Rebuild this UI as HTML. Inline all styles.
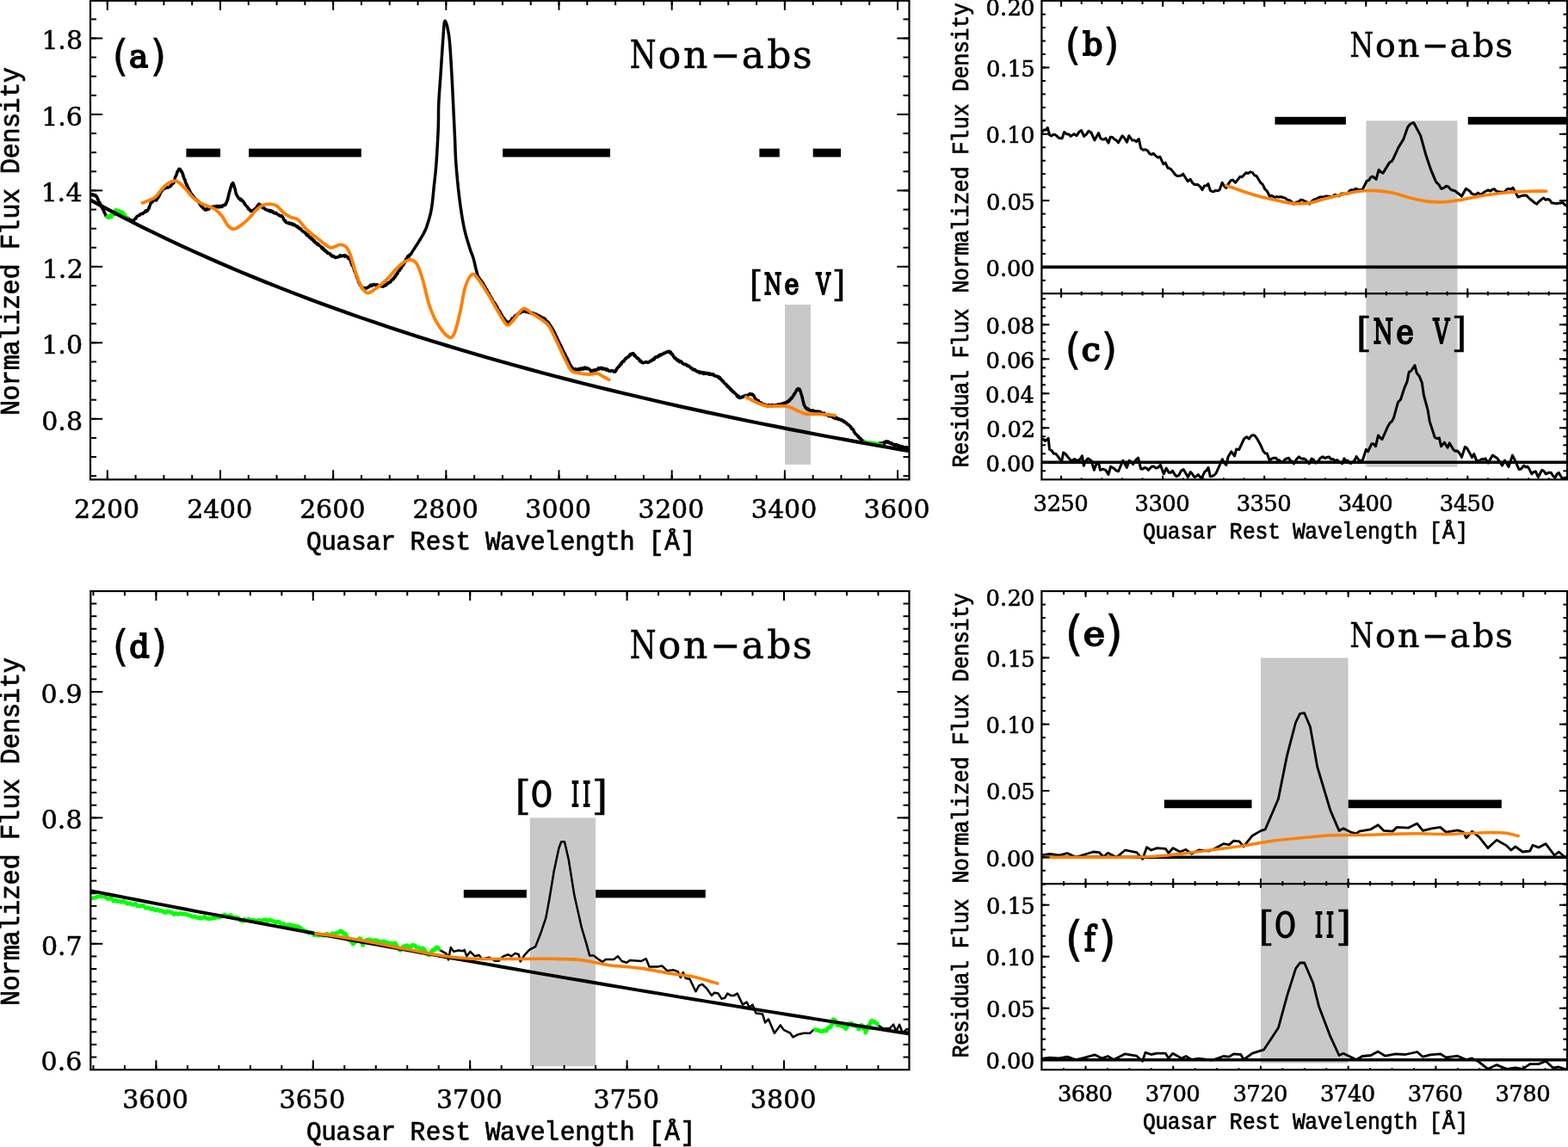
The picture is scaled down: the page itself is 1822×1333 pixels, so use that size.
<!DOCTYPE html><html><head><meta charset="utf-8"><title>Spectra</title><style>html,body{margin:0;padding:0;background:#fff;overflow:hidden}svg{display:block}</style></head><body><svg width="1822" height="1333" viewBox="0 0 1822 1333"><defs><clipPath id="ca"><rect x="105.0" y="0.8" width="951.5" height="556.5"/></clipPath><clipPath id="cd"><rect x="105.3" y="687.0" width="951.2" height="556.2"/></clipPath><clipPath id="cb"><rect x="1210.4" y="0.8" width="610.5999999999999" height="340.4"/></clipPath><clipPath id="cc"><rect x="1210.4" y="341.2" width="610.5999999999999" height="216.09999999999997"/></clipPath><clipPath id="ce"><rect x="1210.4" y="687.0" width="610.5999999999999" height="340.20000000000005"/></clipPath><clipPath id="cf"><rect x="1210.4" y="1027.2" width="610.5999999999999" height="216.0"/></clipPath></defs><rect width="100%" height="100%" fill="#fff"/><g font-family="'DejaVu Serif', 'Liberation Serif', serif" fill="#000"><rect x="912.1" y="354.1" width="29.8" height="185.8" fill="#c8c8c8"/><rect x="1587.4" y="140.3" width="106.1" height="402.3" fill="#c8c8c8"/><rect x="615.7" y="950.4" width="76.3" height="288.8" fill="#c8c8c8"/><rect x="1465" y="764.6" width="101.5" height="471" fill="#c8c8c8"/><rect x="216.4" y="172.7" width="39.6" height="9.8" fill="#000"/><rect x="289.1" y="172.7" width="130.7" height="9.8" fill="#000"/><rect x="584.1" y="172.7" width="124.9" height="9.8" fill="#000"/><rect x="882.4" y="172.7" width="23.4" height="9.8" fill="#000"/><rect x="944.7" y="172.7" width="32.3" height="9.8" fill="#000"/><rect x="1481.5" y="135.8" width="82.4" height="8.9" fill="#000"/><rect x="1705.8" y="135.8" width="116.2" height="8.9" fill="#000"/><rect x="538.8" y="1034.1" width="73.1" height="9.3" fill="#000"/><rect x="692.2" y="1034.1" width="127.6" height="9.3" fill="#000"/><rect x="1352.8" y="929.5" width="101.7" height="9.7" fill="#000"/><rect x="1566.7" y="929.5" width="178.1" height="9.7" fill="#000"/><line x1="1210.4" y1="310.4" x2="1821" y2="310.4" stroke="#000" stroke-width="3.6"/><line x1="1210.4" y1="537.3" x2="1821" y2="537.3" stroke="#000" stroke-width="3.4"/><line x1="1210.4" y1="996.3" x2="1821" y2="996.3" stroke="#000" stroke-width="3.4"/><line x1="1210.4" y1="1231.7" x2="1821" y2="1231.7" stroke="#000" stroke-width="3.4"/><g clip-path="url(#ca)"><polyline points="105.3,226 105.73,225.81 106.31,225.64 107.01,226.7 107.78,225.84 108.59,226.9 109.4,226.85 110.18,226.61 110.9,227.79 111.5,227.37 111.96,228.53 112.37,228.38 112.75,228.98 113.09,230.18 113.42,231.54 113.73,230.93 114.04,231.78 114.34,233.19 114.66,234.44 115,234.44 115.32,234.72 115.64,236.39 115.97,235.35 116.29,237.46 116.61,237.09 116.94,237.48 117.26,238.09 117.57,239.08 117.89,240.63 118.2,240.12 118.5,241.45 118.87,242.29 119.23,242.55 119.6,243.6 119.95,243.45 120.31,244.15 120.65,245.1 120.98,246.62 121.3,246.79 121.6,247.17 122.01,248.48 122.36,249.01 122.69,249.44 123.03,250.96 123.39,251.33 123.8,250.94 124.49,252 125.23,252.18 126.05,252.86 127,252.41 127.53,251.41 128.1,252.34 128.7,250.41 129.32,250.52 129.97,250.67 130.64,249.14 131.31,249.33 132,248.17 132.62,249 133.27,248.85 133.93,248.17 134.6,248.39 135.28,247.09 135.96,247.54 136.65,247.19 137.33,247.1 138,246.92 138.6,247.77 139.2,248.22 139.8,247.71 140.4,248.46 141,247.83 141.6,249.47 142.2,249.88 142.8,250.99 143.4,251.15 144,250.61 144.61,251.2 145.22,252.14 145.85,251.41 146.47,252.64 147.09,252.55 147.71,252.88 148.31,253.18 148.9,254.83 149.46,254.03 150,254.55 150.84,255.29 151.61,256.63 152.35,255.62 153.06,256.58 153.77,256.89 154.5,257.39 155.02,257.03 155.5,256.71 155.96,255.16 156.43,254.81 156.93,254.06 157.49,254.33 158.14,253.78 158.9,251.67 159.4,251.34 159.96,251.05 160.57,250.64 161.21,250.67 161.88,250.43 162.57,249.41 163.27,248.5 163.98,248.81 164.67,248.29 165.35,248.23 166,248.51 166.61,247.65 167.18,246.97 167.7,246.81 168.5,246.41 169.2,244.88 169.83,246.06 170.41,245.52 170.94,245.34 171.46,244.8 171.97,243.56 172.5,242.92 172.82,241.89 173.12,242.29 173.41,240.64 173.68,239.98 173.94,239.54 174.21,238.74 174.47,238.33 174.74,237.09 175.03,236.29 175.33,235.89 175.66,235.17 176.01,235.07 176.4,233.95 176.9,234.97 177.44,234.11 178.02,232.94 178.62,232.86 179.25,232.79 179.88,232.58 180.52,231.88 181.16,232.88 181.79,232.76 182.41,231.33 183,230.77 183.36,229.59 183.71,229.11 184.04,228.97 184.37,228.23 184.68,228.6 185,226.73 185.31,225.79 185.62,226.75 185.94,225.28 186.27,223.89 186.61,223.9 186.97,222.29 187.35,222.53 187.74,222.71 188.17,221.9 188.62,221.05 189.1,219.77 189.63,219.51 190.2,218.75 190.82,219.48 191.48,218.72 192.16,218.86 192.87,217.76 193.59,217.31 194.32,218.11 195.04,218.17 195.76,217.68 196.47,217.34 197.15,217.1 197.81,216.67 198.43,215.43 199,215.62 199.53,214.95 200,213.95 200.5,213.4 200.94,213.26 201.32,212.59 201.66,212.71 201.96,212.51 202.23,210.89 202.47,211.06 202.69,210.43 202.9,209.64 203.1,207.86 203.31,206.9 203.52,206.22 203.75,205.49 204,204.87 204.3,204.87 204.6,204.59 204.89,203.68 205.18,202.22 205.46,201.73 205.74,201.22 206.02,199.2 206.3,199.54 206.57,199.37 206.85,198.6 207.12,198.09 207.4,197.26 208.05,196.23 208.69,197.21 209.33,196.64 209.99,198.12 210.7,199.45 210.93,198.83 211.17,199.33 211.42,200.86 211.67,201.07 211.92,200.72 212.18,201.34 212.44,202.11 212.7,204.22 212.96,204.81 213.23,204.39 213.49,206.39 213.76,207.43 214.02,207.6 214.28,207.78 214.54,208.83 214.8,208.74 215.09,209.24 215.37,211.67 215.66,211.79 215.93,212.26 216.21,213.67 216.49,213.45 216.77,214.91 217.05,215.49 217.34,215.05 217.63,215.78 217.94,216.52 218.25,217.09 218.57,218.38 218.9,218.47 219.22,219.39 219.55,219.53 219.9,221.59 220.25,221.25 220.6,222.11 220.97,223.01 221.33,224.25 221.7,224.04 222.08,225.58 222.45,225.47 222.83,226.14 223.2,226.72 223.57,226.38 223.94,227.68 224.3,227.73 224.84,228.1 225.38,230.15 225.92,229.58 226.46,230.63 227.01,231.57 227.55,231.73 228.09,231.79 228.63,232.63 229.16,233.22 229.7,234.21 230.15,233.52 230.6,234.91 231.06,234.94 231.52,235.61 231.98,237.13 232.43,237.28 232.88,238 233.33,238.95 233.76,239.8 234.19,239.49 234.6,240.27 235,240.51 235.6,241.17 236.1,242.07 236.56,242.14 237.03,242.7 237.57,242.9 238.24,243.93 239.1,243.56 239.61,243.85 240.16,243.88 240.76,242.52 241.38,242.89 242.04,243.38 242.73,242.96 243.43,241.45 244.15,241.17 244.89,241.49 245.63,240.56 246.38,240.62 247.13,240.1 247.87,240.97 248.6,241.01 249.3,241.09 250.03,239.65 250.79,240.57 251.56,240.39 252.36,239.39 253.15,240.66 253.95,240.75 254.74,239.35 255.51,240.6 256.26,239.53 256.97,239.6 257.65,240.41 258.29,240.01 258.87,238.66 259.4,238.98 260.22,238.83 260.88,238.25 261.39,237.72 261.82,237.62 262.19,237.91 262.55,236.06 262.94,236.24 263.4,234.99 263.58,233.77 263.77,233.82 263.96,233.78 264.15,232.97 264.34,231.51 264.53,232.47 264.72,231.4 264.91,230.99 265.1,228.67 265.3,228.18 265.49,226.99 265.68,227.53 265.87,225.84 266.06,224.81 266.24,224.57 266.43,224.71 266.61,223.82 266.8,222.12 266.98,221.27 267.15,222.04 267.33,220.85 267.5,220.56 267.86,218.36 268.2,217.19 268.53,217.25 268.85,215.76 269.16,214.22 269.48,215.03 269.81,213.91 270.15,213.88 270.51,212.51 270.9,214.14 271.08,212.96 271.27,214.73 271.46,214.42 271.65,214.72 271.84,215.69 272.03,217.01 272.23,216.53 272.43,217.03 272.63,218.53 272.84,218.83 273.04,219.44 273.26,220.39 273.47,221.04 273.69,222.17 273.91,223.21 274.14,224.01 274.37,225.61 274.61,225.51 274.85,226.59 275.09,226.65 275.34,227.53 275.6,227.43 276.09,228.62 276.6,228.82 277.13,230.63 277.68,230.74 278.24,230.45 278.82,231.29 279.4,232.42 279.99,231.24 280.57,232.86 281.15,232.55 281.73,233.13 282.3,234.3 282.72,234 283.15,234.76 283.59,235.68 284.03,236.85 284.46,236.36 284.9,237.92 285.34,238.39 285.78,238.95 286.22,239.22 286.65,239.78 287.08,239.9 287.5,240.64 287.91,241.09 288.32,242.81 288.71,242.38 289.1,242.59 289.93,243.14 290.71,245.02 291.44,245.42 292.17,245.24 292.9,244.56 293.67,244.34 294.5,244.13 294.98,244.14 295.49,243.19 296.01,243.18 296.55,242.25 297.1,242.85 297.65,242.18 298.21,240.72 298.75,239.5 299.29,240.17 299.8,238.44 300.3,238.06 300.77,237.09 301.2,237.59 301.79,237.74 302.25,238.05 302.63,237.97 302.99,239.13 303.39,238.93 303.86,240.12 304.48,240.48 305.3,241.62 305.79,241.23 306.33,241.44 306.91,242.19 307.53,242.31 308.18,243.18 308.86,243.33 309.56,243.97 310.28,244.05 311.01,244.4 311.76,244.95 312.5,244.32 313.24,244.47 313.98,245.92 314.7,244.69 315.41,246.01 316.1,246.16 316.74,245.36 317.4,247.07 318.08,247.46 318.76,247.28 319.44,247.77 320.13,248.22 320.82,247.32 321.5,248.32 322.17,248.6 322.84,249.52 323.49,249.79 324.12,250.16 324.73,250.06 325.32,250.96 325.88,250.93 326.41,251.29 326.9,250.81 327.53,250.98 328.09,251.73 328.58,252.73 329.01,252.87 329.42,254.81 329.79,254.92 330.16,255.66 330.53,256.24 330.91,256.9 331.33,257.08 331.79,256.68 332.3,258.54 332.93,258.85 333.62,258.76 334.35,259.12 335.11,259.62 335.88,258.79 336.65,260.21 337.41,259.54 338.14,259.4 338.82,259.92 339.45,260.93 340,260.17 340.81,261.34 341.22,261.76 341.58,260.91 342.23,261.03 343.5,262.06 343.87,262.7 344.27,263.15 344.71,263.2 345.17,263.6 345.66,262.95 346.17,263.47 346.71,264.08 347.26,265.39 347.83,265.05 348.42,265.98 349.02,265.46 349.62,266.03 350.24,266.9 350.87,268.13 351.5,268.68 352.13,269.16 352.76,268.99 353.39,269.91 354.02,270.33 354.63,270.85 355.24,270.73 355.84,272.63 356.43,271.87 357,273.76 357.54,274.15 358.08,272.96 358.62,274.23 359.16,275.36 359.7,276.12 360.24,275.67 360.78,275.84 361.32,276.23 361.86,278.05 362.4,277.23 362.94,278.39 363.48,278.1 364.02,279.29 364.56,280.57 365.1,279.59 365.64,281.33 366.18,281.27 366.72,282.44 367.26,282.6 367.8,282.24 368.34,283.93 368.88,283.67 369.42,283.31 369.96,283.74 370.5,285.09 371.07,285.49 371.65,285.72 372.24,285.93 372.84,286.79 373.45,287.25 374.06,288.7 374.68,287.7 375.3,289.56 375.92,290.22 376.54,289.43 377.15,291.37 377.76,291.48 378.36,292.3 378.95,291.67 379.53,292.27 380.1,292.76 380.66,294.28 381.19,293.96 381.72,293.95 382.22,294.46 382.7,294.54 383.16,294.47 383.59,294.89 384,296.5 385.04,296.27 385.86,298.02 386.5,297.23 387.04,297.59 387.53,298.26 388.05,297.84 388.65,298.29 389.4,299.42 390.04,299.31 390.74,299.12 391.47,298.67 392.23,299.02 393.01,298.88 393.8,297.97 394.59,298.07 395.36,296.68 396.11,297.76 396.83,297.15 397.5,297.65 398.37,297.47 399.21,296.85 400.01,296.49 400.78,298.18 401.52,296.91 402.24,297.78 402.93,297.89 403.6,298.24 404.06,299.4 404.49,300.22 404.89,299.35 405.28,300.52 405.65,300.39 406.02,301.41 406.39,301.72 406.77,301.98 407.16,302.7 407.57,303.59 408,305.73 408.24,305.5 408.49,305.54 408.74,307.35 408.99,308.11 409.26,307.76 409.52,307.86 409.79,308.63 410.06,309.14 410.33,310.29 410.61,310.56 410.88,311.55 411.16,312.31 411.43,313.6 411.7,314.89 411.97,315.36 412.24,315.47 412.5,316.16 412.76,317.04 413.01,317.43 413.26,318 413.5,318.11 413.79,319.24 414.07,321.21 414.35,320.43 414.62,321.84 414.88,322.79 415.14,323.92 415.4,323.46 415.65,324.25 415.91,324.88 416.16,325.82 416.42,326.54 416.67,328.08 416.93,328.49 417.19,329.11 417.45,328.13 417.72,328.67 418,330.38 418.45,331.51 418.88,331.5 419.28,332.41 419.69,332.01 420.11,333.3 420.56,334.77 421.06,335.01 421.62,335.4 422.26,335.84 423,334.65 423.52,334.39 424.07,334.38 424.67,334.88 425.29,334.94 425.95,335.14 426.63,334.43 427.32,333.96 428.04,333.81 428.76,332.9 429.5,332.7 430.23,331.44 430.96,332.45 431.69,331.17 432.41,332.16 433.11,331.48 433.8,330.75 434.52,330.38 435.25,330.61 435.98,331.37 436.72,331.6 437.45,330.69 438.19,330.79 438.92,331.79 439.65,332.08 440.38,331.91 441.1,331.77 441.82,332.58 442.53,331.6 443.23,332.16 443.92,332.43 444.6,333.23 445.27,332.5 445.94,332.73 446.61,331.75 447.27,331.03 447.93,330.74 448.59,331.68 449.23,330.85 449.87,329.74 450.49,328.82 451.11,329.25 451.72,329.12 452.31,328.22 452.89,327.47 453.45,327.75 454,327.77 454.53,326.05 455.03,325.25 455.51,325.33 455.97,324.99 456.41,324.98 456.84,323.6 457.27,324.17 457.69,323.53 458.11,322.57 458.53,321.47 458.96,322.26 459.4,320.48 459.85,320.78 460.31,319.08 460.8,318.4 461.18,318.85 461.58,317.46 461.98,318.06 462.4,316.64 462.83,315.47 463.26,314.9 463.7,314.6 464.14,314.39 464.58,314.24 465.02,312.13 465.46,311.92 465.89,310.93 466.32,311.66 466.73,309.52 467.13,308.74 467.52,308.15 467.89,308.17 468.25,308.53 468.59,307.98 468.9,307.22 469.41,306.88 469.85,306.02 470.24,304.26 470.58,303.37 470.9,304.14 471.2,303.24 471.49,301.41 471.8,302.01 472.12,300.95 472.49,300.37 472.9,299.7 473.29,298.89 473.66,298.14 474.02,298.25 474.39,298.01 474.76,298.74 475.16,296.85 475.59,297.92 476.06,296.04 476.59,295.68 477.18,295.77 477.85,294.86 478.6,293.2 478.88,292.79 479.17,292.36 479.48,291.89 479.8,291.41 480.14,290.9 480.49,290.36 480.86,289.81 481.23,289.24 481.62,288.65 482.01,288.05 482.41,287.43 482.82,286.8 483.24,286.16 483.66,285.51 484.08,284.84 484.51,284.18 484.94,283.5 485.37,282.83 485.8,282.14 486.23,281.46 486.65,280.78 487.08,280.1 487.5,279.43 487.91,278.76 488.32,278.09 488.72,277.43 489.11,276.78 489.49,276.15 489.87,275.52 490.23,274.91 490.58,274.31 490.91,273.73 491.23,273.17 491.54,272.62 491.83,272.1 492.1,271.6 492.55,270.74 492.97,269.93 493.36,269.15 493.72,268.41 494.05,267.7 494.36,267.01 494.64,266.35 494.91,265.71 495.16,265.08 495.39,264.46 495.62,263.85 495.83,263.24 496.04,262.63 496.24,262.02 496.44,261.4 496.64,260.76 496.84,260.1 497.05,259.43 497.27,258.73 497.5,258 497.7,257.35 497.9,256.71 498.1,256.08 498.29,255.44 498.49,254.8 498.68,254.16 498.86,253.52 499.05,252.88 499.23,252.23 499.41,251.57 499.58,250.9 499.76,250.23 499.93,249.54 500.09,248.85 500.26,248.14 500.42,247.41 500.58,246.67 500.74,245.91 500.9,245.13 501.05,244.33 501.2,243.51 501.35,242.67 501.5,241.8 501.6,241.2 501.69,240.59 501.79,239.96 501.88,239.33 501.97,238.68 502.05,238.03 502.14,237.37 502.22,236.7 502.31,236.02 502.39,235.33 502.47,234.63 502.55,233.93 502.63,233.22 502.7,232.51 502.78,231.78 502.86,231.06 502.93,230.33 503.01,229.59 503.08,228.85 503.15,228.1 503.23,227.35 503.3,226.6 503.37,225.85 503.45,225.09 503.52,224.33 503.59,223.57 503.67,222.81 503.74,222.05 503.81,221.29 503.89,220.53 503.97,219.77 504.04,219.01 504.12,218.26 504.2,217.5 504.27,216.83 504.34,216.16 504.41,215.5 504.49,214.84 504.56,214.18 504.63,213.53 504.7,212.88 504.78,212.23 504.85,211.58 504.92,210.93 504.99,210.28 505.07,209.63 505.14,208.98 505.21,208.33 505.28,207.67 505.36,207.01 505.43,206.35 505.5,205.68 505.57,205.01 505.65,204.33 505.72,203.65 505.79,202.96 505.86,202.26 505.93,201.56 506.01,200.84 506.08,200.12 506.15,199.38 506.22,198.64 506.29,197.88 506.36,197.12 506.43,196.34 506.5,195.55 506.56,194.74 506.63,193.92 506.7,193.09 506.77,192.24 506.83,191.38 506.9,190.5 506.94,189.9 506.99,189.29 507.03,188.67 507.08,188.04 507.12,187.4 507.17,186.75 507.21,186.09 507.26,185.43 507.3,184.75 507.35,184.07 507.39,183.37 507.44,182.68 507.49,181.97 507.53,181.26 507.58,180.54 507.62,179.81 507.67,179.08 507.71,178.35 507.76,177.61 507.8,176.87 507.85,176.12 507.89,175.37 507.94,174.62 507.98,173.86 508.03,173.1 508.07,172.34 508.12,171.58 508.16,170.82 508.2,170.06 508.25,169.29 508.29,168.53 508.33,167.77 508.37,167 508.41,166.24 508.45,165.49 508.49,164.73 508.53,163.97 508.57,163.22 508.61,162.47 508.65,161.73 508.69,160.99 508.73,160.25 508.76,159.52 508.8,158.79 508.83,158.07 508.87,157.36 508.9,156.65 508.94,155.95 508.97,155.25 509,154.57 509.03,153.89 509.06,153.22 509.09,152.55 509.12,151.9 509.15,151.26 509.17,150.62 509.2,150 509.23,149.17 509.26,148.35 509.29,147.55 509.32,146.76 509.34,145.98 509.36,145.22 509.38,144.46 509.39,143.72 509.41,142.99 509.42,142.26 509.43,141.55 509.44,140.84 509.45,140.14 509.46,139.44 509.47,138.76 509.47,138.07 509.48,137.4 509.48,136.72 509.49,136.05 509.49,135.38 509.49,134.72 509.5,134.05 509.5,133.39 509.51,132.73 509.51,132.06 509.52,131.39 509.52,130.73 509.53,130.06 509.54,129.38 509.55,128.7 509.56,128.02 509.57,127.33 509.58,126.64 509.6,125.93 509.62,125.23 509.63,124.51 509.66,123.78 509.68,123.05 509.71,122.3 509.73,121.55 509.77,120.78 509.8,120 509.83,119.35 509.86,118.7 509.89,118.04 509.93,117.38 509.96,116.71 510,116.04 510.04,115.37 510.08,114.69 510.12,114.01 510.16,113.32 510.2,112.63 510.24,111.94 510.28,111.25 510.33,110.55 510.37,109.85 510.42,109.15 510.47,108.44 510.51,107.74 510.56,107.03 510.61,106.32 510.66,105.6 510.71,104.89 510.76,104.17 510.81,103.45 510.86,102.74 510.91,102.01 510.97,101.29 511.02,100.57 511.07,99.85 511.12,99.12 511.17,98.4 511.23,97.67 511.28,96.95 511.33,96.22 511.39,95.5 511.44,94.77 511.49,94.05 511.54,93.32 511.6,92.6 511.65,91.87 511.7,91.15 511.75,90.43 511.8,89.71 511.86,88.99 511.91,88.27 511.96,87.56 512.01,86.84 512.06,86.13 512.1,85.42 512.15,84.71 512.2,84 512.25,83.29 512.29,82.58 512.34,81.86 512.39,81.14 512.44,80.41 512.49,79.68 512.53,78.95 512.58,78.21 512.63,77.47 512.68,76.73 512.73,75.98 512.78,75.24 512.83,74.49 512.88,73.74 512.92,72.99 512.97,72.24 513.02,71.49 513.07,70.74 513.12,69.99 513.17,69.24 513.22,68.49 513.27,67.74 513.32,66.99 513.36,66.25 513.41,65.51 513.46,64.77 513.51,64.03 513.56,63.3 513.61,62.57 513.65,61.84 513.7,61.12 513.75,60.4 513.8,59.69 513.84,58.98 513.89,58.27 513.94,57.58 513.98,56.89 514.03,56.2 514.08,55.52 514.12,54.85 514.17,54.18 514.21,53.53 514.26,52.88 514.3,52.24 514.35,51.6 514.39,50.98 514.43,50.36 514.47,49.76 514.52,49.16 514.56,48.58 514.6,48 514.67,47.06 514.73,46.13 514.8,45.21 514.86,44.29 514.92,43.38 514.98,42.48 515.04,41.59 515.1,40.71 515.16,39.85 515.21,38.99 515.27,38.15 515.33,37.33 515.38,36.52 515.44,35.73 515.49,34.95 515.55,34.2 515.6,33.47 515.65,32.75 515.71,32.06 515.76,31.39 515.82,30.74 515.87,30.12 515.93,29.53 515.99,28.96 516.04,28.42 516.1,27.9 516.16,27.42 516.22,26.97 516.28,26.54 516.34,26.16 516.4,25.8 517.1,24.31 517.83,25.42 518.5,27 518.71,27.4 518.9,27.82 519.07,28.27 519.23,28.8 519.4,29.44 519.58,30.23 519.77,31.21 520,32.4 520.09,32.88 520.18,33.36 520.28,33.84 520.38,34.34 520.48,34.85 520.59,35.37 520.7,35.91 520.81,36.46 520.92,37.04 521.03,37.65 521.14,38.29 521.26,38.95 521.37,39.66 521.49,40.4 521.61,41.18 521.72,42 521.84,42.87 521.95,43.78 522.07,44.75 522.18,45.78 522.29,46.86 522.4,48 522.45,48.51 522.49,49.04 522.54,49.59 522.59,50.14 522.64,50.72 522.69,51.3 522.73,51.9 522.78,52.51 522.83,53.13 522.88,53.77 522.93,54.41 522.98,55.07 523.03,55.73 523.08,56.41 523.12,57.09 523.17,57.79 523.22,58.49 523.27,59.2 523.32,59.92 523.37,60.64 523.42,61.37 523.47,62.11 523.52,62.85 523.56,63.6 523.61,64.35 523.66,65.1 523.71,65.86 523.76,66.63 523.81,67.39 523.85,68.16 523.9,68.93 523.95,69.7 524,70.47 524.04,71.24 524.09,72.02 524.14,72.79 524.18,73.56 524.23,74.33 524.28,75.1 524.32,75.86 524.37,76.63 524.41,77.39 524.46,78.14 524.5,78.89 524.55,79.64 524.59,80.38 524.63,81.12 524.67,81.85 524.72,82.57 524.76,83.29 524.8,84 524.84,84.71 524.88,85.41 524.92,86.11 524.96,86.81 525,87.51 525.04,88.21 525.08,88.91 525.11,89.61 525.15,90.3 525.19,91 525.23,91.69 525.26,92.39 525.3,93.08 525.33,93.77 525.37,94.47 525.41,95.16 525.44,95.85 525.48,96.54 525.51,97.24 525.54,97.93 525.58,98.62 525.61,99.32 525.65,100.01 525.68,100.71 525.71,101.4 525.75,102.1 525.78,102.8 525.81,103.49 525.85,104.19 525.88,104.89 525.91,105.59 525.95,106.29 525.98,107 526.01,107.7 526.05,108.41 526.08,109.12 526.12,109.83 526.15,110.54 526.18,111.25 526.22,111.97 526.25,112.69 526.28,113.41 526.32,114.13 526.35,114.85 526.39,115.58 526.42,116.31 526.46,117.04 526.49,117.78 526.53,118.52 526.56,119.26 526.6,120 526.63,120.67 526.67,121.34 526.7,122.02 526.73,122.71 526.76,123.4 526.8,124.09 526.83,124.79 526.87,125.49 526.9,126.19 526.93,126.9 526.97,127.61 527,128.32 527.04,129.04 527.07,129.76 527.11,130.48 527.14,131.21 527.17,131.93 527.21,132.66 527.24,133.39 527.28,134.12 527.31,134.85 527.35,135.58 527.38,136.31 527.42,137.05 527.45,137.78 527.49,138.51 527.52,139.25 527.56,139.98 527.59,140.71 527.63,141.44 527.66,142.17 527.7,142.9 527.73,143.62 527.76,144.35 527.8,145.07 527.83,145.79 527.87,146.51 527.9,147.22 527.93,147.93 527.97,148.64 528,149.35 528.03,150.05 528.07,150.75 528.1,151.44 528.13,152.13 528.16,152.82 528.2,153.5 528.23,154.17 528.26,154.84 528.29,155.51 528.32,156.17 528.35,156.82 528.38,157.47 528.41,158.11 528.44,158.75 528.47,159.38 528.5,160 528.54,160.81 528.57,161.61 528.61,162.39 528.64,163.16 528.67,163.92 528.7,164.66 528.73,165.4 528.75,166.12 528.78,166.83 528.81,167.54 528.83,168.23 528.85,168.92 528.88,169.6 528.9,170.28 528.92,170.95 528.94,171.61 528.97,172.27 528.99,172.93 529.01,173.59 529.03,174.24 529.06,174.89 529.08,175.55 529.1,176.2 529.13,176.85 529.16,177.51 529.18,178.17 529.21,178.83 529.24,179.5 529.27,180.17 529.3,180.85 529.33,181.53 529.37,182.22 529.41,182.92 529.45,183.63 529.49,184.34 529.53,185.07 529.57,185.81 529.62,186.56 529.67,187.32 529.72,188.09 529.78,188.88 529.84,189.68 529.9,190.5 529.95,191.12 530,191.74 530.04,192.37 530.1,193.01 530.15,193.65 530.2,194.31 530.25,194.96 530.31,195.63 530.36,196.3 530.42,196.97 530.48,197.66 530.53,198.34 530.59,199.03 530.65,199.73 530.71,200.43 530.78,201.13 530.84,201.84 530.9,202.55 530.97,203.27 531.03,203.99 531.1,204.71 531.16,205.43 531.23,206.16 531.3,206.88 531.37,207.61 531.44,208.34 531.51,209.08 531.58,209.81 531.65,210.54 531.72,211.28 531.79,212.01 531.87,212.75 531.94,213.48 532.01,214.22 532.09,214.95 532.16,215.68 532.24,216.41 532.32,217.14 532.39,217.87 532.47,218.59 532.55,219.32 532.62,220.04 532.7,220.75 532.78,221.47 532.86,222.18 532.94,222.89 533.02,223.59 533.1,224.29 533.18,224.98 533.26,225.68 533.34,226.36 533.42,227.04 533.5,227.72 533.58,228.39 533.66,229.05 533.74,229.71 533.82,230.36 533.9,231 534,231.77 534.1,232.54 534.2,233.31 534.3,234.08 534.4,234.85 534.5,235.61 534.6,236.37 534.7,237.13 534.81,237.89 534.91,238.64 535.01,239.39 535.12,240.14 535.22,240.89 535.33,241.63 535.44,242.38 535.54,243.11 535.65,243.85 535.76,244.58 535.87,245.31 535.98,246.04 536.09,246.76 536.2,247.48 536.31,248.2 536.42,248.91 536.54,249.62 536.65,250.33 536.77,251.03 536.88,251.73 537,252.42 537.11,253.12 537.23,253.8 537.34,254.49 537.46,255.16 537.58,255.84 537.7,256.51 537.82,257.18 537.94,257.84 538.06,258.49 538.18,259.15 538.3,259.79 538.43,260.44 538.55,261.08 538.67,261.71 538.8,262.34 538.92,262.96 539.05,263.58 539.17,264.19 539.3,264.8 539.47,265.6 539.65,266.4 539.83,267.2 540.01,267.99 540.2,268.78 540.39,269.55 540.58,270.33 540.77,271.1 540.97,271.86 541.17,272.61 541.37,273.36 541.57,274.1 541.77,274.83 541.98,275.56 542.18,276.28 542.39,276.99 542.59,277.69 542.79,278.38 543,279.07 543.2,279.74 543.4,280.41 543.6,281.06 543.8,281.71 544,282.34 544.19,282.97 544.38,283.59 544.57,284.19 544.76,284.78 544.94,285.37 545.12,285.94 545.29,286.49 545.46,287.04 545.63,287.57 545.79,288.1 545.95,288.6 546.1,289.1 546.42,290.13 546.72,291.04 546.99,291.84 547.25,292.55 547.49,293.18 547.71,293.76 547.93,294.29 548.14,294.8 548.35,295.3 548.56,295.81 548.78,296.35 548.99,296.93 549.22,297.57 549.47,298.28 549.72,299.09 550,300 550.16,300.55 550.32,301.14 550.48,301.75 550.65,302.4 550.81,303.06 550.98,303.75 551.15,304.46 551.32,305.18 551.49,305.92 551.67,306.67 551.84,307.44 552.02,308.21 552.2,308.99 552.38,309.77 552.56,310.55 552.74,311.33 552.93,312.1 553.12,312.87 553.31,313.64 553.5,314.39 553.69,315.13 553.89,315.85 554.08,316.56 554.28,317.25 554.48,317.91 554.68,318.55 554.89,319.16 555.09,319.75 555.3,320.3 555.63,321.12 555.95,321.85 556.27,322.39 556.58,322.29 556.89,323.6 557.21,323.93 557.53,325.39 557.85,324.54 558.19,325.29 558.54,326.71 558.9,325.61 559.28,326.79 559.68,328.05 560.11,328.55 560.56,327.88 561.04,328.58 561.55,329.43 562.1,331.86 562.38,331.13 562.67,332.49 562.97,333.27 563.27,332.78 563.59,333.19 563.91,334.98 564.24,334.93 564.57,334.87 564.92,336.28 565.27,336.16 565.62,336.7 565.98,336.83 566.35,338.82 566.72,339.75 567.09,339.88 567.47,341.1 567.85,340.1 568.24,341.14 568.63,342.25 569.02,343.78 569.41,344.45 569.8,344.11 570.19,344.54 570.59,345.54 570.98,346.32 571.38,347.78 571.77,347.1 572.17,348.88 572.56,349.43 572.95,350.23 573.34,350.79 573.72,351.13 574.11,351.26 574.49,351.87 574.86,352.56 575.23,353.92 575.6,353.24 576,354.1 576.41,355.76 576.82,355.52 577.23,355.87 577.65,356.51 578.07,358.15 578.49,358.45 578.92,360.34 579.35,360.88 579.78,361.78 580.21,361.2 580.64,361.59 581.07,362.33 581.5,363.76 581.93,364.84 582.35,365.06 582.78,365.36 583.2,366.36 583.61,367.38 584.03,368.12 584.43,368.88 584.84,369.67 585.24,369.93 585.63,369.51 586.01,371.35 586.39,370.89 586.76,371.87 587.12,371.98 587.48,373.07 587.82,372.5 588.16,372.96 588.48,373.29 588.8,373.42 589.1,374.99 589.94,375 590.66,374.78 591.27,374.86 591.81,375.66 592.3,374.32 592.77,373.23 593.24,373.57 593.76,372.54 594.34,372.4 595.01,370.1 595.8,370.15 596.27,370.44 596.75,370.1 597.24,369.81 597.74,367.77 598.24,367.74 598.76,366.91 599.29,366.51 599.83,367.38 600.39,366.15 600.97,366.24 601.56,364.72 602.18,365.12 602.82,363.9 603.48,363.13 604.16,363.67 604.87,363.63 605.61,361.84 606.37,362.5 607.17,362.39 608,361.59 608.54,361.86 609.11,361.46 609.7,361.61 610.32,361.76 610.96,362.46 611.62,362.66 612.29,361.97 612.98,361.76 613.69,362.48 614.4,363.28 615.13,362.58 615.87,363.01 616.61,363.03 617.36,364.32 618.11,364.11 618.86,363.48 619.61,363.81 620.36,364.6 621.11,365.15 621.85,365.59 622.58,364.89 623.3,365.31 624.01,366.57 624.71,366.35 625.39,366.42 626.06,366.77 626.71,368.23 627.33,367.38 627.94,368.14 628.52,368.06 629.07,368.46 629.6,369.56 630.3,370.2 630.96,369.46 631.59,369.58 632.19,370.95 632.76,370.43 633.31,370.51 633.83,372.56 634.33,372.15 634.82,373.33 635.28,373.05 635.73,374.39 636.17,374.12 636.6,374.09 637.03,374.33 637.44,375.83 637.85,376.53 638.26,377.57 638.67,376.66 639.08,378.21 639.5,378.36 639.92,379.22 640.36,379.21 640.8,380.11 641.14,381.06 641.49,382.32 641.83,381.4 642.16,382.66 642.5,383.81 642.83,384.7 643.16,383.92 643.49,384.41 643.82,386.52 644.14,387.22 644.47,386.98 644.79,386.86 645.11,389.09 645.43,388.79 645.74,390.39 646.06,390.55 646.37,391.59 646.68,391.07 646.99,392.87 647.3,392.53 647.61,393.53 647.91,394.99 648.21,395.62 648.52,395.11 648.82,395.81 649.12,396.78 649.41,397.62 649.71,397.99 650.01,398.13 650.3,398.94 650.65,400.51 651,401.51 651.35,400.67 651.69,402.3 652.03,403.34 652.37,402.73 652.71,404.85 653.04,404.23 653.38,405.78 653.71,406.36 654.04,407.16 654.36,407.24 654.69,408.1 655.01,409.04 655.33,409.4 655.65,410.46 655.96,410.71 656.27,411.32 656.58,411.19 656.89,412.87 657.2,413.24 657.5,413.38 657.8,414.92 658.1,415.53 658.4,415.52 658.78,415.77 659.16,417.06 659.52,417.16 659.88,417.95 660.23,419.25 660.57,419.39 660.91,420.75 661.25,421.6 661.58,421.46 661.92,423.22 662.25,422.89 662.59,424.7 662.93,425.39 663.27,425.49 663.62,425.21 663.98,426.53 664.34,426.78 664.72,428.23 665.1,427.15 665.78,428.98 666.49,429.63 667.21,429.43 667.94,429.75 668.69,428.72 669.44,430.17 670.2,429.26 670.95,430.05 671.71,429.92 672.46,428.52 673.2,429.62 673.94,429.84 674.69,428.18 675.44,428.54 676.2,429.08 676.96,427.81 677.71,428.93 678.45,427.63 679.18,428.45 679.91,427.14 680.61,427.76 681.3,428.56 682.02,427.46 682.7,427.86 683.35,428.7 683.99,428.82 684.62,428.8 685.26,429.53 685.91,429.92 686.59,431.67 687.32,431.44 688.1,431.91 688.69,430.56 689.32,431.54 689.97,430.13 690.63,430.62 691.32,430.51 692.01,429.68 692.72,430.26 693.43,429.34 694.13,429.04 694.83,429.26 695.52,427.58 696.2,428.95 696.86,428.13 697.5,427.61 698.29,428.31 699.05,427.41 699.8,428.84 700.54,428.27 701.27,428.09 701.99,429.06 702.71,428.74 703.43,428.53 704.14,429.8 704.87,428.78 705.6,430.38 706.35,429.56 707.13,430.5 707.92,431.38 708.71,430.93 709.51,431.34 710.29,430.96 711.05,430.62 711.78,430.85 712.47,431.17 713.11,432.05 713.7,431.68 714.39,431.64 714.95,432.03 715.42,430.26 715.84,429.94 716.25,430.14 716.69,428.37 717.19,427.64 717.8,427.54 718.17,426.67 718.54,426.67 718.93,425.95 719.33,426.08 719.74,425.56 720.16,424.32 720.59,424.52 721.04,423.67 721.49,422.48 721.96,423.34 722.44,421.51 722.94,420.75 723.45,420.08 723.97,420.5 724.5,420.37 724.99,419.71 725.51,418.5 726.06,417.7 726.63,416.67 727.21,417.23 727.81,416.49 728.42,415.52 729.03,415.48 729.64,414.55 730.24,414.9 730.84,414.03 731.42,412.69 731.99,413.44 732.53,411.52 733.05,412.08 733.54,411.61 734,411.13 734.77,410.66 735.45,412.03 736.05,410.91 736.6,412.27 737.13,413.47 737.65,412.6 738.18,413.31 738.76,414.64 739.4,415.01 739.91,415.68 740.44,416.49 740.97,415.89 741.51,416.71 742.07,417.29 742.63,417.44 743.2,419.54 743.79,419.9 744.38,420.29 744.98,419.46 745.58,421.34 746.2,421.44 746.88,421.15 747.56,421.81 748.24,421.39 748.94,421.04 749.64,420.81 750.36,420.98 751.1,420.52 751.86,420.89 752.65,421.43 753.46,421.06 754.3,421.02 754.83,420.55 755.37,419.48 755.93,419.7 756.49,419.15 757.07,419.42 757.65,418.56 758.24,417.69 758.84,417.94 759.45,418.09 760.06,416.31 760.68,417.06 761.3,415.07 761.93,415.08 762.56,414.61 763.19,415.12 763.83,415.1 764.46,414.38 765.1,413.29 765.75,413.95 766.41,412.61 767.09,412.08 767.78,412.9 768.48,412.02 769.19,411.75 769.9,411.33 770.61,411.53 771.32,410.26 772.03,410.61 772.72,410.06 773.41,410.08 774.09,409.11 774.76,409.45 775.4,409.04 776.02,408.5 776.62,408.32 777.2,409.12 777.81,408.29 778.37,410.04 778.89,408.99 779.38,409.17 779.85,409.78 780.29,411.77 780.73,411.28 781.16,411.51 781.6,411.92 782.04,412.57 782.5,414.39 782.99,414.92 783.5,415.65 784.06,416.33 784.65,415.69 785.3,417.16 785.8,417.12 786.32,418.31 786.87,418.69 787.43,419.19 788,418.07 788.59,419.89 789.2,420.35 789.81,420.77 790.44,419.64 791.07,420.19 791.71,420.4 792.36,420.63 793.01,422.46 793.66,422.77 794.32,422.82 794.97,423.53 795.62,423.54 796.27,423.29 796.92,423.31 797.55,423.67 798.18,425.21 798.8,424.57 799.44,425.15 800.09,425.72 800.74,425.38 801.39,426.19 802.04,426.64 802.7,427.81 803.35,427.58 804,427.89 804.65,429.44 805.31,429 805.96,430 806.61,429.96 807.25,429.26 807.9,430.3 808.54,430.69 809.18,431.62 809.81,431.16 810.44,432.1 811.06,432.08 811.69,431.75 812.3,433.15 813.05,432.02 813.8,433.55 814.55,432.56 815.29,432.4 816.03,432.88 816.76,433.99 817.49,434.46 818.21,432.78 818.93,433.72 819.64,433.78 820.35,434.39 821.05,433.35 821.75,433.99 822.45,433.82 823.14,434.8 823.82,433.91 824.5,435.3 825.22,434.3 825.94,434.37 826.65,435.44 827.36,435.28 828.07,434.79 828.77,435.95 829.47,435.18 830.16,436.69 830.84,436.77 831.51,437.19 832.17,437.18 832.82,436.98 833.46,437.38 834.09,437.69 834.7,438.93 835.3,437.86 835.88,439.69 836.43,438.56 836.97,439.32 837.48,439.88 837.99,441.51 838.48,441.29 838.96,441.57 839.44,443 839.91,442.36 840.39,443.31 840.86,443.99 841.35,444.94 841.84,445.49 842.34,445.86 842.86,445.88 843.4,446.39 843.87,446.55 844.35,448.28 844.84,448.46 845.34,449.12 845.85,448.61 846.36,449.63 846.88,450.77 847.4,450.95 847.92,450.68 848.44,451.82 848.96,453.11 849.47,452.47 849.98,452.9 850.48,453.6 850.97,454.81 851.45,455.53 851.91,454.74 852.36,455.18 852.8,455.75 853.46,456.5 854.08,457.46 854.68,457.39 855.26,458.25 855.82,458.53 856.36,460.44 856.9,460.45 857.43,459.74 857.96,461.66 858.5,460.42 859.04,461.19 859.6,462.47 860.35,462.28 861.1,462.18 861.84,461.55 862.59,460.94 863.34,461.5 864.09,460.27 864.85,460.17 865.62,460.23 866.4,459.36 867.06,459.81 867.73,460.25 868.42,459.76 869.11,459.07 869.81,458.97 870.5,458.36 871.19,457.51 871.87,458.14 872.54,457.68 873.18,458.29 873.8,458.73 874.29,458.11 874.75,458.71 875.18,459.46 875.59,459.37 875.99,459.58 876.39,461.08 876.79,462 877.2,462.46 877.63,462.99 878.09,463.91 878.58,464.21 879.12,464.73 879.7,464.92 880.21,465.07 880.75,466.06 881.32,465.53 881.91,466.55 882.53,467.63 883.15,467.94 883.8,468.21 884.45,467.94 885.11,468.65 885.78,469.09 886.44,469.75 887.11,469.7 887.77,470.49 888.43,471.23 889.07,470.12 889.7,471.18 890.41,471.59 891.1,471.03 891.79,471.31 892.48,472.24 893.16,470.59 893.84,471.5 894.53,470.78 895.22,471.86 895.92,472.08 896.63,471.25 897.35,470.42 898.08,471.19 898.83,471.05 899.6,471.29 900.25,470.86 900.93,471.03 901.63,471.31 902.34,470.69 903.07,470.42 903.81,471.31 904.55,469.89 905.3,470.65 906.04,470.02 906.78,470.57 907.51,469.29 908.22,470.71 908.93,469.42 909.61,468.71 910.27,468.92 910.9,468.94 911.5,468.02 912.19,468.46 912.85,468.16 913.47,468.34 914.07,467.38 914.65,466.87 915.21,466.42 915.75,466.95 916.28,466.88 916.81,465.69 917.34,464.67 917.86,465.21 918.4,463.95 918.94,463.07 919.5,462.33 919.92,463.02 920.36,462.52 920.79,461.6 921.24,460.65 921.69,460.12 922.14,458.8 922.59,459.39 923.03,457.54 923.48,457.31 923.92,456.9 924.35,456.19 924.78,454.89 925.2,453.95 925.6,453.83 925.99,452.55 926.37,453.38 926.73,452.16 927.08,452.79 927.4,451.58 927.91,451.71 928.36,451.64 928.77,452.29 929.14,452.36 929.48,452.68 929.8,454.74 930.11,454.8 930.41,455.65 930.73,456.71 931.05,458 931.4,458.87 931.6,459.8 931.78,460.44 931.96,460.56 932.14,462.27 932.31,462.86 932.48,462.18 932.64,464.34 932.81,465.27 932.98,465.85 933.16,465.49 933.33,467.53 933.52,467.96 933.71,467.62 933.91,468.36 934.13,470.77 934.35,470.92 934.59,470.84 934.84,471.16 935.11,471.78 935.4,472.42 935.92,474.08 936.49,473.89 937.1,474.02 937.74,475.77 938.41,475.89 939.1,475.05 939.8,476.58 940.51,476.28 941.23,476.78 941.93,476.77 942.63,477.38 943.3,477.42 944.01,477.76 944.7,476.81 945.37,477.89 946.04,477.75 946.71,478.27 947.39,477.86 948.1,478.81 948.83,478.37 949.61,478.02 950.43,478.18 951.3,478.25 951.9,479.07 952.55,478.48 953.22,479.43 953.91,479.07 954.63,479.92 955.37,480.17 956.12,480.49 956.87,481.32 957.63,480.02 958.38,481.78 959.13,481.36 959.87,481.77 960.59,482.2 961.28,482.75 961.95,482.15 962.6,482.44 963.2,483.63 964,482.32 964.76,483.6 965.48,483.86 966.16,483.02 966.81,484.31 967.45,484.68 968.07,485.37 968.69,484.53 969.3,485.94 969.92,485.33 970.55,485.53 971.2,486.52 971.86,485.2 972.52,486.66 973.18,486.71 973.84,486.4 974.49,487.55 975.15,486.87 975.81,487.29 976.46,487.62 977.12,488.33 977.78,487.61 978.44,488.33 979.1,488.66 979.67,489.22 980.24,490.05 980.81,489.44 981.38,490.77 981.95,490.39 982.53,490.96 983.1,490.96 983.67,491.81 984.25,493.1 984.82,492.99 985.39,493.73 985.96,493.41 986.53,493.91 987.1,494.44 987.54,495.41 987.98,495.98 988.42,496.76 988.86,495.95 989.3,497.72 989.74,498.58 990.17,498.54 990.61,498.23 991.05,499.27 991.49,499.33 991.93,500.26 992.36,502.16 992.8,502.18 993.24,502.84 993.68,503.64 994.12,504.4 994.56,504.4 995,504.91 995.49,505.49 995.98,506.17 996.47,506.55 996.95,507.26 997.43,506.96 997.91,508.32 998.39,508.48 998.88,509.55 999.36,508.87 999.86,509.51 1000.36,509.73 1000.86,511.51 1001.38,512.2 1001.91,512.14 1002.45,512.01 1003,513.18 1003.64,513.49 1004.3,513.42 1004.96,513.19 1005.63,513.55 1006.31,514.02 1007,514.06 1007.71,514.47 1008.42,515.04 1009.14,515.73 1009.87,514.3 1010.61,515.37 1011.36,514.54 1012.13,514.8 1012.9,516.16 1013.6,515.82 1014.33,516.51 1015.09,515.72 1015.87,514.98 1016.67,515.69 1017.48,516.07 1018.29,516.7 1019.09,516.78 1019.89,515.86 1020.68,515.72 1021.45,515.13 1022.19,516.07 1022.91,515.25 1023.58,515.09 1024.21,514.79 1024.8,514.71 1025.72,515.77 1026.49,514.51 1027.17,515.74 1027.77,513.83 1028.33,514.92 1028.88,513.3 1029.45,512.88 1030.08,514.01 1030.8,513.14 1031.39,514.1 1031.98,513.25 1032.59,513.19 1033.21,514.72 1033.85,514.88 1034.5,515.43 1035.16,515.51 1035.84,514.67 1036.53,515.96 1037.24,516.42 1037.96,516.26 1038.7,517.38 1039.36,516.38 1040.04,517.88 1040.75,517.67 1041.48,516.64 1042.22,516.88 1042.97,518.26 1043.73,518.8 1044.48,517.7 1045.23,518.34 1045.96,519.3 1046.68,518.49 1047.38,519.93 1048.06,519.42 1048.7,518.81 1049.59,519.55 1050.48,520.08 1051.37,519.97 1052.24,520.51 1053.08,519.65 1053.86,520.9 1054.58,520.19 1055.22,520.76 1055.77,520.78 1056.2,520.6" fill="none" stroke="#000" stroke-width="3.5" stroke-linejoin="round" stroke-linecap="round"/><polyline points="123.5,252.5 126,252 129,251 132,247 135,245 139,245.5 142,248 145,251 148,254" fill="none" stroke="#00ff00" stroke-width="3" stroke-linejoin="round" stroke-linecap="round"/><path d="M125.46 251.99h0 M127.38 251.68h0 M129.17 251.79h0 M130.37 249.09h0 M131.57 247.59h0 M133.07 246.5h0 M134.74 244.42h0 M136.67 245.24h0 M138.65 245.77h0 M140.27 247.26h0 M141.81 246.86h0 M143.23 248.76h0 M144.65 249.67h0 M146.06 252.81h0 M147.48 253.94h0" stroke="#00ff00" stroke-width="5.2" stroke-linecap="round" fill="none"/><polyline points="1003,513.6 1010,515 1018,516 1024.8,516.6" fill="none" stroke="#00ff00" stroke-width="3" stroke-linejoin="round" stroke-linecap="round"/><path d="M1005.35 514.03h0 M1007.71 514.79h0 M1010.06 515.27h0 M1012.44 514.73h0 M1014.82 514.82h0 M1017.21 515.7h0 M1019.59 515.78h0 M1021.98 516.85h0 M1024.37 516.87h0" stroke="#00ff00" stroke-width="4.4" stroke-linecap="round" fill="none"/><polyline points="100,229.76 116.03,238.45 132.07,246.93 148.1,255.2 164.13,263.26 180.17,271.13 196.2,278.81 212.23,286.31 228.27,293.63 244.3,300.78 260.33,307.76 276.37,314.59 292.4,321.26 308.43,327.78 324.47,334.15 340.5,340.39 356.53,346.49 372.57,352.46 388.6,358.3 404.63,364.02 420.67,369.62 436.7,375.1 452.73,380.47 468.77,385.73 484.8,390.88 500.83,395.93 516.87,400.88 532.9,405.73 548.93,410.49 564.97,415.16 581,419.73 597.03,424.22 613.07,428.62 629.1,432.95 645.13,437.19 661.17,441.35 677.2,445.44 693.23,449.45 709.27,453.39 725.3,457.27 741.33,461.07 757.37,464.8 773.4,468.47 789.43,472.08 805.47,475.63 821.5,479.11 837.53,482.54 853.57,485.91 869.6,489.22 885.63,492.48 901.67,495.68 917.7,498.83 933.73,501.93 949.77,504.98 965.8,507.99 981.83,510.94 997.87,513.85 1013.9,516.71 1029.93,519.53 1045.97,522.31 1062,525.04" fill="none" stroke="#000" stroke-width="4.2" stroke-linejoin="round" stroke-linecap="round"/><path d="M165.5 235.8C167.87 234.78 175.98 232.3 179.7 229.7C183.42 227.1 185.33 222.9 187.8 220.2C190.27 217.5 192.03 215.18 194.5 213.5C196.97 211.82 200.35 210.33 202.6 210.1C204.85 209.87 205.73 210.42 208 212.1C210.27 213.78 213.48 217.27 216.2 220.2C218.92 223.13 221.38 227 224.3 229.7C227.22 232.4 230.78 234.72 233.7 236.4C236.62 238.08 239.1 238.67 241.8 239.8C244.5 240.93 247.2 241.28 249.9 243.2C252.6 245.12 255.52 248.15 258 251.3C260.48 254.45 262.55 259.62 264.8 262.1C267.05 264.58 269.03 266.2 271.5 266.2C273.97 266.2 276.67 264.13 279.6 262.1C282.53 260.07 286.17 256.93 289.1 254C292.03 251.07 294.5 247.08 297.2 244.5C299.9 241.92 302.6 239.73 305.3 238.5C308 237.27 310.7 237 313.4 237.1C316.1 237.2 318.8 237.42 321.5 239.1C324.2 240.78 326.83 244.95 329.6 247.2C332.37 249.45 335.33 251.25 338.1 252.6C340.87 253.95 343.05 252.82 346.2 255.3C349.35 257.78 352.95 263.67 357 267.5C361.05 271.33 366 274.92 370.5 278.3C375 281.68 379.95 286.78 384 287.8C388.05 288.82 391.87 284.63 394.8 284.4C397.73 284.17 399.57 284.48 401.6 286.4C403.63 288.32 405.02 290.7 407 295.9C408.98 301.1 411.28 311.28 413.5 317.6C415.72 323.92 418.05 329.98 420.3 333.8C422.55 337.62 424.53 340.05 427 340.5C429.47 340.95 431.27 339.2 435.1 336.5C438.93 333.8 445.72 328.35 450 324.3C454.28 320.25 457.43 315.57 460.8 312.2C464.17 308.83 467.28 305.8 470.2 304.1C473.12 302.4 475.82 301.33 478.3 302C480.78 302.67 482.85 303.93 485.1 308.1C487.35 312.27 489.55 319.35 491.8 327C494.05 334.65 495.9 345.9 498.6 354C501.3 362.1 504.17 369.3 508 375.6C511.83 381.9 518.22 390 521.6 391.8C524.98 393.6 526.05 391.57 528.3 386.4C530.55 381.23 533.07 369.57 535.1 360.8C537.13 352.03 538.25 340.78 540.5 333.8C542.75 326.82 545.9 320.25 548.6 318.9C551.3 317.55 553.33 321.42 556.7 325.7C560.07 329.98 564.98 338.3 568.8 344.6C572.62 350.9 576.22 357.98 579.6 363.5C582.98 369.02 586.4 376.13 589.1 377.7C591.8 379.27 592.65 376.05 595.8 372.9C598.95 369.75 604.17 360.15 608 358.8C611.83 357.45 615.2 362.67 618.8 364.8C622.4 366.93 626.38 369.2 629.6 371.6C632.82 374 635.1 374.78 638.1 379.2C641.1 383.62 644.45 391.58 647.6 398.1C650.75 404.62 654.3 412.9 657 418.3C659.7 423.7 661.55 428.02 663.8 430.5C666.05 432.98 667.13 432.42 670.5 433.2C673.87 433.98 680.17 435.08 684 435.2C687.83 435.32 690.8 433.57 693.5 433.9C696.2 434.23 697.83 435.97 700.2 437.2C702.57 438.43 706.45 440.62 707.7 441.3" fill="none" stroke="#ff7f00" stroke-width="3.8" stroke-linejoin="round" stroke-linecap="round"/><path d="M866.8 461.4C868.95 462.48 875.55 466.15 879.7 467.9C883.85 469.65 886.4 471.23 891.7 471.9C897 472.57 906.87 471.57 911.5 471.9C916.13 472.23 915.52 472.42 919.5 473.9C923.48 475.38 930.1 479.58 935.4 480.8C940.7 482.02 945.5 480.87 951.3 481.2C957.1 481.53 967.05 482.53 970.2 482.8" fill="none" stroke="#ff7f00" stroke-width="3.8" stroke-linejoin="round" stroke-linecap="round"/></g><g clip-path="url(#cb)"><polyline points="1209,153 1211.1,153 1213.17,150.88 1215.23,151.11 1217.3,148.4 1219.6,156.9 1221.72,157.92 1223.85,156.51 1225.97,156.5 1228.1,158.1 1230.13,160.11 1232.17,160.78 1234.2,160.7 1236.5,153.5 1239.2,155.71 1241.9,156.1 1244.2,158.4 1248,155.7 1251.1,157.7 1253.8,153.4 1256.5,151.5 1259.6,158.4 1262.25,156.23 1264.9,152.3 1268,154.1 1271.9,163 1276.5,154.6 1278.8,160.7 1280.83,161.93 1282.87,161.92 1284.9,160.7 1288,166.1 1290.3,159.2 1292.6,159.54 1294.9,161.8 1297.2,163.1 1299.5,165.8 1304.1,157.7 1306.8,160.73 1309.5,165.3 1311.8,157.7 1315.6,163 1317.95,162.88 1320.3,164.6 1323.3,161.5 1325.6,172.3 1328.3,174.35 1331,173.8 1333.3,174.8 1335.6,178.4 1337.9,179.54 1340.2,178.4 1343.3,181.5 1345.6,182.99 1347.9,182.2 1351.8,190.7 1354.1,189.2 1357.1,195.3 1360.2,196.1 1363.3,199.9 1365.6,203 1367.9,204.5 1370.2,204.38 1372.5,204.04 1374.8,202.2 1380.2,210.7 1383.3,208.4 1385.6,212.48 1387.9,214.5 1391.7,214.5 1394.4,216.7 1397.1,220.7 1399.4,216.1 1401.7,215.81 1404,213.7 1406.3,221.4 1408.37,222.44 1410.43,222.62 1412.5,221.4 1414.8,221.84 1417.1,220.7 1420.2,212.2 1422.5,216.2 1424.8,218.4 1427.8,213 1430.15,209.8 1432.5,209.1 1435.5,212.2 1438.6,208.4 1440.9,205.27 1443.2,205.67 1445.5,203.39 1447.8,200.7 1450.37,201.46 1452.93,199.8 1455.5,200.7 1457.8,203.85 1460.1,204.5 1464.7,212.2 1467.27,214.4 1469.83,219.95 1472.4,222.2 1475.5,228.3 1477.53,227.37 1479.57,228.47 1481.6,229.4 1483.7,228.52 1485.8,229.1 1488.3,228.8 1490.8,229.49 1493.3,230.16 1495.8,232.1 1498.43,232.6 1501.07,234.58 1503.7,237.1 1506.37,234.87 1509.03,234.42 1511.7,232.1 1514.17,232.77 1516.65,234.06 1519.12,235.04 1521.6,237.1 1524.23,233.95 1526.87,232.01 1529.5,231.1 1531.82,229.8 1534.13,228.99 1536.45,229.01 1538.77,228.64 1541.08,227.94 1543.4,228.2 1545.9,228.49 1548.4,228.65 1550.9,226.23 1553.4,227.2 1555.88,227.89 1558.35,225.31 1560.83,225.11 1563.3,225.2 1565.68,225.17 1568.06,221.93 1570.44,220.68 1572.82,221.3 1575.2,219.2 1577.87,220.17 1580.53,220.59 1583.2,220.2 1588.2,210.3 1590.5,209.66 1592.8,205.92 1595.1,205.3 1599.1,208.3 1602.1,197.4 1604.55,199.9 1607,201.3 1613,191.4 1615,188.41 1617,187.75 1619,184.4 1624.9,171.5 1630.9,161.6 1635.8,147.7 1638.13,144.74 1640.47,143.29 1642.8,142.7 1650.7,157.6 1656.7,179.5 1662.7,197.4 1668.6,211.3 1670.6,213.22 1672.6,215.56 1674.6,219.2 1676.57,218.92 1678.53,217.94 1680.5,216.2 1683.17,217.23 1685.83,220.37 1688.5,221.2 1690.97,222.03 1693.45,223.99 1695.93,225.91 1698.4,228.2 1703.4,219.2 1705.7,220.6 1708,222.27 1710.3,225.2 1712.7,226.07 1715.1,225.89 1717.5,224.11 1719.9,226.05 1722.3,225.2 1724.68,223.23 1727.06,221.99 1729.44,220.96 1731.82,222.01 1734.2,220.2 1736.58,219.8 1738.96,222.46 1741.34,222.76 1743.72,223.2 1746.1,223.2 1748.48,222.87 1750.86,220.05 1753.24,219.36 1755.62,220.08 1758,218.2 1764,229.1 1766.47,228.1 1768.95,227.34 1771.43,226.98 1773.9,227.2 1776.28,229.85 1778.66,231.99 1781.04,233.77 1783.42,235.95 1785.8,237.1 1788.47,234.05 1791.13,231.85 1793.8,230.1 1796.18,232.32 1798.56,231.44 1800.94,232.7 1803.32,236.03 1805.7,236.1 1808.17,236.6 1810.65,236.23 1813.12,236.08 1815.6,235.1 1817.73,237.51 1819.87,239.01 1822,239.1" fill="none" stroke="#000" stroke-width="3" stroke-linejoin="round" stroke-linecap="round"/><path d="M1424.8 215.6C1429.15 217.08 1443.98 222.25 1450.9 224.5C1457.82 226.75 1461.47 227.83 1466.3 229.1C1471.13 230.37 1474.33 230.93 1479.9 232.1C1485.47 233.27 1493.08 235.43 1499.7 236.1C1506.32 236.77 1512.97 236.93 1519.6 236.1C1526.23 235.27 1532.88 232.75 1539.5 231.1C1546.12 229.45 1552.68 227.68 1559.3 226.2C1565.92 224.72 1572.57 222.97 1579.2 222.2C1585.83 221.43 1592.47 221.27 1599.1 221.6C1605.73 221.93 1612.38 222.78 1619 224.2C1625.62 225.62 1632.18 228.45 1638.8 230.1C1645.42 231.75 1652.07 233.33 1658.7 234.1C1665.33 234.87 1671.98 235.03 1678.6 234.7C1685.22 234.37 1691.78 233.18 1698.4 232.1C1705.02 231.02 1711.67 229.35 1718.3 228.2C1724.93 227.05 1731.58 226.03 1738.2 225.2C1744.82 224.37 1751.38 223.7 1758 223.2C1764.62 222.7 1771.43 222.37 1777.9 222.2C1784.37 222.03 1793.65 222.2 1796.8 222.2" fill="none" stroke="#ff7f00" stroke-width="3.6" stroke-linejoin="round" stroke-linecap="round"/></g><g clip-path="url(#cc)"><polyline points="1209.6,510.3 1212.15,510.42 1214.7,512.5 1218.2,509.3 1219.5,522.1 1221.95,523.37 1224.4,527.26 1226.85,527.33 1229.3,530.4 1231.55,533.67 1233.8,535.5 1235.7,525.9 1238.25,527.78 1240.8,531 1244,534.8 1246.25,535.14 1248.5,533.6 1251.7,535.5 1254.8,534.2 1257.4,529.7 1259.3,541.2 1261.2,536.1 1264.4,532.9 1268.2,535.5 1271.4,546.3 1274,539.3 1276.5,537.4 1278.4,546.3 1281.6,545.1 1284.8,546.3 1288,551.4 1290.6,542.2 1294.4,544.4 1297,546.93 1299.6,547.8 1304.8,535.2 1309.3,543.4 1312.2,535.2 1314.45,536.7 1316.7,539.6 1319.65,534.7 1322.6,532.2 1325.6,544.8 1327.8,545.2 1330,543.4 1332.25,544.21 1334.5,546.3 1336.47,544.08 1338.43,542.2 1340.4,541.9 1343.3,544.1 1345.9,543.14 1348.5,540.4 1352.2,550.8 1355.2,544.1 1358.2,549.3 1360.4,549.28 1362.6,547.1 1364.85,551.23 1367.1,553.7 1369.8,552.27 1372.5,547.09 1375.2,545.6 1380.4,554.5 1383.4,548.5 1385.6,550.95 1387.8,554.5 1390.05,553.69 1392.3,551.5 1394.5,554.48 1396.7,555.2 1399.7,548.5 1401.9,546.8 1404.1,543.4 1406.3,553.7 1408.53,553.43 1410.77,552.21 1413,550 1416,543.4 1420.4,533.7 1422.65,538.1 1424.9,540.4 1427.1,530.8 1430.8,524.8 1434.5,530 1436.7,521.9 1439.7,522.6 1445.6,510 1448.6,507.8 1451.5,510 1453.75,506.61 1456,505.6 1458.2,506.39 1460.4,509.3 1464.9,517.4 1467.8,524.1 1470.05,526.87 1472.3,527.1 1475.2,535.2 1477.67,533.12 1480.13,532.19 1482.6,532.2 1484.6,534.68 1486.6,534.77 1488.6,537.4 1490.82,536.69 1493.05,533.96 1495.28,532.96 1497.5,532.2 1499.47,535.55 1501.43,536.11 1503.4,538.9 1506.35,534.04 1509.3,530.8 1511.3,532.48 1513.3,533.18 1515.3,533 1517.27,534.21 1519.23,536.33 1521.2,538.9 1524.1,533 1526.35,534.34 1528.6,538.2 1530.57,536.95 1532.53,534.84 1534.5,532.2 1536.97,530.68 1539.43,532.5 1541.9,531.5 1544.37,531.01 1546.83,533.78 1549.3,533.7 1551.53,535.69 1553.77,534.63 1556,536.6 1559.7,538.8 1561.9,532.9 1563.9,535.49 1565.9,535.12 1567.9,538.1 1569.9,538.38 1571.9,537.05 1573.9,535.1 1576.1,530.6 1579.9,535.8 1583.6,534.3 1587.3,522.4 1589.6,524.6 1594,515.7 1596.25,516.07 1598.5,518.7 1601.5,506 1603.75,508.79 1606,510.5 1612.7,495.5 1614.93,491.7 1617.17,489.92 1619.4,485.8 1624.6,467.2 1627.6,464.2 1631.4,452.2 1635.1,443.3 1637.3,432.1 1639.6,431.3 1644,424.6 1646.3,433.6 1649.3,437.3 1652.3,444.8 1654.5,459.7 1659,476.1 1661.2,489.6 1667.2,508.2 1669.8,509.59 1672.4,509 1674.6,518.7 1678.4,514.2 1682.1,520.2 1684.3,514.9 1688.8,522.4 1691.05,524.25 1693.3,523.9 1695.9,526.67 1698.5,531.4 1702.3,519.4 1704.5,520.73 1706.7,524.6 1710.5,531.4 1712.7,527.6 1715.7,535.1 1717.7,535.61 1719.7,535.08 1721.7,533.6 1723.9,533.91 1726.1,532.9 1729.1,538.1 1734.4,529.1 1738.1,531.4 1740.35,533.24 1742.6,536.6 1745.6,541.1 1748.5,535.1 1753,542.6 1757.5,529.1 1760.5,535.1 1765,545.5 1766.97,545.21 1768.93,543.32 1770.9,541.1 1772.9,542.94 1774.9,542.29 1776.9,544.8 1779.9,550.8 1782.15,548.54 1784.4,547.8 1787.3,554.5 1791.8,546.3 1794.05,547.52 1796.3,550.8 1799.3,549.3 1802.3,549.3 1804.55,552.96 1806.8,555.2 1809,551.2 1811.2,549.3 1815.7,556.7 1817.95,555.35 1820.2,555.2 1823,556" fill="none" stroke="#000" stroke-width="3" stroke-linejoin="round" stroke-linecap="round"/></g><g clip-path="url(#cd)"><polyline points="106.6,1044.6 116.5,1041.3 132.9,1046.2 149.4,1049.5 165.9,1053.6 182.3,1056.9 198.8,1061 215.3,1062.7 231.7,1066 248.2,1066.8 264.7,1063.5 281.1,1069.3 297.6,1069.3 314.1,1070.1 330.5,1074.2 347,1076.7 355.2,1082.5 371.7,1087.4 388.2,1085.7 396.9,1081.8 410.6,1097 418.8,1090.1 421.6,1097.6 425.7,1092.1 440.8,1094.2 454.5,1096.3 458.6,1096.3 465.5,1104.5 469.6,1099.7 480.6,1099 484.7,1100.4 491.5,1102.4 498.4,1110.7 502.5,1104.5 506.6,1101.7 510.7,1103.8 519,1108.6 521,1115.5 523.8,1101.1 527.2,1105.9 532.7,1104.5 538.2,1105.2 539.6,1103.8 542.3,1111.3 546.4,1105.9 551.9,1111.3 556.7,1110 560.1,1114.8 568.4,1112.7 575.2,1116.8 579.3,1116.8 584.8,1111.3 590.3,1109.3 594.4,1111.3 598.6,1107.9 602.7,1109.3 604.7,1117.5 609.5,1110 615,1103.8 622.2,1100.1 628.8,1083.2 634.4,1066.3 638.2,1045.7 643.8,1011.9 649.4,985.7 652.2,978.2 656,978.2 660.7,998.8 667.3,1040.1 675.7,1077.6 681.3,1096.3 685.1,1110.4 689.8,1110.4 694.5,1114.2 700.1,1117.9 703.8,1115.1 713.2,1115.1 717.9,1111.3 722.6,1117 728.2,1118.8 732,1116 745.1,1117 750.7,1114.2 754.5,1123.5 763.9,1123.5 769.5,1122.6 775.1,1128.2 782.6,1127.3 787.7,1129.2 790.8,1136.1 793.8,1130 796.9,1136.9 801.5,1137.7 808.4,1152.3 812.3,1145.3 816.1,1143.8 821.5,1149.2 826.9,1156.9 829.9,1153.8 834.6,1154.6 838.4,1160.7 842.2,1159.9 845.3,1154.6 849.2,1156.9 853,1156.9 856.8,1154.6 863,1167.6 867.6,1164.5 870.7,1170.7 874.5,1167.6 878.4,1177.6 886,1178.4 889.1,1188.4 893,1184.5 899.9,1200.7 906.8,1191.4 910.6,1196.8 918.3,1200.7 921.4,1205.3 927.5,1202.2 933.7,1200.7 941.4,1200.7 946,1196 953.7,1197.6 961.3,1196.8 966,1191.4 969,1184.5 973.6,1191.4 982.9,1194.5 987.5,1189.1 998.2,1195.3 1002.1,1191.4 1005.9,1199.1 1012.8,1185.3 1019.7,1190.7 1025.9,1195.3 1033.6,1195.3 1038.2,1190.7 1041.3,1198.4 1045.1,1190.7 1048.9,1200.7 1053.5,1196 1058,1196.8" fill="none" stroke="#000" stroke-width="2.5" stroke-linejoin="round" stroke-linecap="round"/><polyline points="106.6,1044.6 116.5,1041.3 132.9,1046.2 149.4,1049.5 165.9,1053.6 182.3,1056.9 198.8,1061 215.3,1062.7 231.7,1066 248.2,1066.8 264.7,1063.5 281.1,1069.3 297.6,1069.3 314.1,1070.1 330.5,1074.2 347,1076.7 355.2,1082.5 371.7,1087.4 388.2,1085.7 396.9,1081.8 410.6,1097 418.8,1090.1 421.6,1097.6 425.7,1092.1 440.8,1094.2 454.5,1096.3 458.6,1096.3 465.5,1104.5 469.6,1099.7 480.6,1099 484.7,1100.4 491.5,1102.4 498.4,1110.7 502.5,1104.5 506.6,1101.7 510.7,1103.8" fill="none" stroke="#00ff00" stroke-width="3" stroke-linejoin="round" stroke-linecap="round"/><polyline points="946,1196 953.7,1197.6 961.3,1196.8 966,1191.4 969,1184.5 973.6,1191.4 982.9,1194.5 987.5,1189.1 998.2,1195.3 1002.1,1191.4 1005.9,1199.1 1012.8,1185.3 1019.7,1190.7" fill="none" stroke="#00ff00" stroke-width="3" stroke-linejoin="round" stroke-linecap="round"/><path d="M108.88 1043.21h0 M111.15 1043.19h0 M113.43 1042.01h0 M115.71 1041.81h0 M118 1042.05h0 M120.3 1041.39h0 M122.6 1041.95h0 M124.9 1044.62h0 M127.2 1043.92h0 M129.5 1044.55h0 M131.8 1047.06h0 M134.12 1046.37h0 M136.48 1047.72h0 M138.83 1047.33h0 M141.18 1048.19h0 M143.54 1047.49h0 M145.89 1049.12h0 M148.24 1050.15h0 M150.59 1049.85h0 M152.91 1050.95h0 M155.24 1051.36h0 M157.57 1050.48h0 M159.9 1052.73h0 M162.23 1052.91h0 M164.56 1052.79h0 M166.9 1052.68h0 M169.25 1055.15h0 M171.61 1054.68h0 M173.96 1055.75h0 M176.31 1056.6h0 M178.66 1056.68h0 M181.02 1057.65h0 M183.36 1056.91h0 M185.69 1058.46h0 M188.02 1058.19h0 M190.35 1059.94h0 M192.68 1060.39h0 M195 1059.09h0 M197.33 1059.76h0 M199.68 1060.41h0 M202.07 1062.45h0 M204.46 1061.43h0 M206.85 1062.13h0 M209.23 1061.6h0 M211.62 1062.34h0 M214.01 1062.29h0 M216.38 1062.56h0 M218.73 1063.59h0 M221.09 1064.07h0 M223.44 1065.31h0 M225.79 1065.25h0 M228.14 1066.31h0 M230.5 1066.61h0 M232.87 1067.24h0 M235.27 1066.58h0 M237.67 1065.48h0 M240.06 1067.27h0 M242.46 1067.64h0 M244.86 1067.61h0 M247.25 1066.92h0 M249.63 1067.03h0 M251.98 1065.35h0 M254.33 1066.37h0 M256.69 1065.28h0 M259.04 1064.12h0 M261.39 1063.11h0 M263.75 1064.54h0 M266.05 1065.15h0 M268.31 1063.79h0 M270.57 1066.3h0 M272.83 1066.16h0 M275.1 1066.34h0 M277.36 1067.48h0 M279.62 1069.42h0 M281.93 1070.19h0 M284.33 1068.21h0 M286.73 1069.57h0 M289.13 1068.21h0 M291.53 1069.82h0 M293.93 1068.89h0 M296.33 1070.21h0 M298.73 1070.51h0 M301.13 1069.48h0 M303.52 1070.78h0 M305.92 1069.25h0 M308.32 1068.8h0 M310.72 1070.18h0 M313.11 1068.93h0 M315.47 1069.72h0 M317.8 1070.8h0 M320.13 1071.87h0 M322.45 1071.36h0 M324.78 1071.67h0 M327.11 1074.24h0 M329.44 1073.49h0 M331.79 1075.5h0 M334.17 1075.71h0 M336.54 1074.82h0 M338.91 1075.38h0 M341.28 1075.88h0 M343.66 1076.54h0 M346.03 1076.78h0 M348.16 1077.66h0 M350.12 1079.19h0 M352.08 1081.35h0 M354.04 1081.69h0 M356.13 1082.61h0 M358.44 1083.99h0 M360.74 1083.51h0 M363.04 1084.35h0 M365.34 1086.66h0 M367.64 1086.24h0 M369.94 1086.99h0 M372.26 1086.17h0 M374.65 1086.89h0 M377.03 1087.04h0 M379.42 1085.45h0 M381.81 1086.64h0 M384.2 1086.43h0 M386.58 1084.81h0 M388.91 1085.69h0 M391.1 1084.32h0 M393.29 1083.85h0 M395.48 1082.08h0 M397.46 1082.92h0 M399.07 1084.78h0 M400.68 1084.84h0 M402.28 1086.72h0 M403.89 1089.98h0 M405.5 1092.45h0 M407.1 1092.52h0 M408.71 1094.8h0 M410.32 1096.91h0 M412.11 1095.29h0 M413.95 1093.85h0 M415.79 1092.19h0 M417.62 1090.78h0 M419.1 1091.14h0 M419.94 1092.68h0 M420.78 1095.11h0 M421.63 1098.21h0 M423.07 1094.5h0 M424.5 1093.87h0 M426.09 1092.72h0 M428.47 1092.03h0 M430.85 1092.15h0 M433.22 1093.88h0 M435.6 1092.85h0 M437.98 1093.06h0 M440.36 1093.98h0 M442.73 1094.97h0 M445.1 1093.9h0 M447.47 1094.8h0 M449.85 1095.19h0 M452.22 1096.75h0 M454.59 1096.15h0 M456.99 1097.15h0 M459.11 1096.11h0 M460.65 1098.35h0 M462.2 1100.94h0 M463.74 1103.34h0 M465.29 1104.13h0 M466.85 1102.26h0 M468.41 1100.19h0 M470.16 1099.74h0 M472.56 1098.77h0 M474.95 1100.1h0 M477.35 1100.02h0 M479.74 1098.3h0 M482.06 1098.97h0 M484.33 1101.01h0 M486.63 1101.31h0 M488.93 1102.38h0 M491.23 1101.95h0 M492.85 1103.14h0 M494.39 1105.38h0 M495.92 1108.43h0 M497.46 1109.02h0 M498.91 1109.56h0 M500.23 1107.73h0 M501.56 1105.73h0 M503.07 1103.89h0 M505.05 1103.77h0 M507.07 1101.11h0 M509.21 1101.85h0" stroke="#00ff00" stroke-width="5" stroke-linecap="round" fill="none"/><path d="M948.35 1196.78h0 M950.7 1197.56h0 M953.05 1198.17h0 M955.43 1198.48h0 M957.81 1197.74h0 M960.2 1197.93h0 M962.15 1194.69h0 M963.72 1193.93h0 M965.3 1193.27h0 M966.53 1190.53h0 M967.49 1188.94h0 M968.45 1184.85h0 M969.56 1185.27h0 M970.89 1186.73h0 M972.22 1189.44h0 M973.55 1191.51h0 M975.8 1190.96h0 M978.08 1192.21h0 M980.35 1193.12h0 M982.63 1195.41h0 M984.27 1193.53h0 M985.83 1190.25h0 M987.38 1189.95h0 M989.42 1189.35h0 M991.5 1191.7h0 M993.58 1191.72h0 M995.65 1192.63h0 M997.73 1195.92h0 M999.51 1193.29h0 M1001.21 1191.61h0 M1002.6 1193.58h0 M1003.67 1195.47h0 M1004.73 1196.22h0 M1005.79 1199.99h0 M1006.86 1197.27h0 M1007.94 1195.45h0 M1009.01 1192.17h0 M1010.08 1191.79h0 M1011.16 1189.05h0 M1012.23 1187.56h0 M1013.68 1186.94h0 M1015.57 1186.99h0 M1017.46 1188.62h0 M1019.36 1189.63h0" stroke="#00ff00" stroke-width="5" stroke-linecap="round" fill="none"/><polyline points="100,1034.24 116.03,1037.39 132.07,1040.52 148.1,1043.64 164.13,1046.75 180.17,1049.84 196.2,1052.92 212.23,1055.99 228.27,1059.05 244.3,1062.09 260.33,1065.12 276.37,1068.14 292.4,1071.15 308.43,1074.14 324.47,1077.12 340.5,1080.09 356.53,1083.05 372.57,1086 388.6,1088.93 404.63,1091.86 420.67,1094.77 436.7,1097.67 452.73,1100.55 468.77,1103.43 484.8,1106.29 500.83,1109.15 516.87,1111.99 532.9,1114.82 548.93,1117.64 564.97,1120.44 581,1123.24 597.03,1126.03 613.07,1128.8 629.1,1131.56 645.13,1134.32 661.17,1137.06 677.2,1139.79 693.23,1142.51 709.27,1145.22 725.3,1147.92 741.33,1150.6 757.37,1153.28 773.4,1155.95 789.43,1158.6 805.47,1161.25 821.5,1163.89 837.53,1166.51 853.57,1169.13 869.6,1171.73 885.63,1174.33 901.67,1176.91 917.7,1179.48 933.73,1182.05 949.77,1184.6 965.8,1187.15 981.83,1189.68 997.87,1192.21 1013.9,1194.73 1029.93,1197.23 1045.97,1199.73 1062,1202.21" fill="none" stroke="#000" stroke-width="3.9" stroke-linejoin="round" stroke-linecap="round"/><path d="M366.8 1084.9C370.67 1085.42 379.27 1086.33 390 1088C400.73 1089.67 417.48 1092.38 431.2 1094.9C444.92 1097.42 458.58 1100.47 472.3 1103.1C486.02 1105.73 502.07 1108.92 513.5 1110.7C524.93 1112.48 531.75 1113.17 540.9 1113.8C550.05 1114.43 559.25 1114.38 568.4 1114.5C577.55 1114.62 586.65 1114.55 595.8 1114.5C604.95 1114.45 615.93 1114.23 623.3 1114.2C630.67 1114.17 632.2 1114.15 640 1114.3C647.8 1114.45 661.97 1114.5 670.1 1115.1C678.23 1115.7 682.55 1116.8 688.8 1117.9C695.05 1119 698.22 1120.45 707.6 1121.7C716.98 1122.95 733.03 1123.77 745.1 1125.4C757.17 1127.03 770.33 1129.97 780 1131.5C789.67 1133.03 796.7 1133.45 803.1 1134.6C809.5 1135.75 813.28 1137 818.4 1138.4C823.52 1139.8 831.23 1142.23 833.8 1143" fill="none" stroke="#ff7f00" stroke-width="3.6" stroke-linejoin="round" stroke-linecap="round"/></g><g clip-path="url(#ce)"><polyline points="1209,994 1220.1,992.3 1230.2,994 1240.2,991.6 1250.3,996.3 1260.4,993 1270.5,990 1277.2,990.6 1282.2,995.7 1287.3,991.3 1297.3,996.3 1307.4,988 1320.8,990.6 1327.6,998.4 1332.6,984.6 1337.6,988 1344.4,985.6 1354.4,986.3 1357.8,991.6 1362.8,985.6 1371.2,990 1378,987.3 1384.7,992.3 1393.1,988 1404.8,989 1411.5,986.3 1421.6,980.6 1428.3,981.6 1433.4,977.2 1440.1,977.9 1445.1,983.9 1455.2,971.2 1465.3,965.4 1470.3,963.8 1485.4,928.5 1495.5,878.1 1505.6,839.5 1510.6,829.4 1515.7,828.7 1522.4,844.5 1530.8,891.5 1545.9,941.9 1556,965.4 1561,962.8 1569.4,967.1 1576.1,968.8 1579.5,966.1 1592.9,963.8 1601.3,958.7 1608.1,965.4 1618.1,966.1 1623.2,961.4 1636.6,962.1 1646.7,957.1 1653.4,965.4 1663.5,962.8 1673.6,961.4 1680.3,967.1 1693.7,964.8 1700.4,967.1 1703.8,973.8 1710.5,966.1 1718.9,972.8 1729,985.6 1739.1,976.2 1750.8,982.9 1755.9,988 1760.9,983.9 1769.3,990 1777.7,989 1781.1,982.2 1787.8,984.9 1796.2,980.6 1806.2,994 1811.3,990 1818,995.7 1823,996" fill="none" stroke="#000" stroke-width="2.8" stroke-linejoin="round" stroke-linecap="round"/><path d="M1209 996.3C1225.97 996.3 1288.23 996.52 1310.8 996.3C1333.37 996.08 1333.2 995.78 1344.4 995C1355.6 994.22 1366.82 992.88 1378 991.6C1389.18 990.32 1400.32 988.75 1411.5 987.3C1422.68 985.85 1433.9 984.58 1445.1 982.9C1456.3 981.22 1467.5 978.72 1478.7 977.2C1489.9 975.68 1501.1 974.87 1512.3 973.8C1523.5 972.73 1534.7 971.35 1545.9 970.8C1557.1 970.25 1568.3 970.72 1579.5 970.5C1590.7 970.28 1601.9 969.78 1613.1 969.5C1624.3 969.22 1635.5 968.8 1646.7 968.8C1657.9 968.8 1669.1 969.62 1680.3 969.5C1691.5 969.38 1704.95 968.43 1713.9 968.1C1722.85 967.77 1727.98 967.48 1734 967.5C1740.02 967.52 1744.97 967.53 1750 968.2C1755.03 968.87 1761.83 970.95 1764.2 971.5" fill="none" stroke="#ff7f00" stroke-width="3.4" stroke-linejoin="round" stroke-linecap="round"/></g><g clip-path="url(#cf)"><polyline points="1209,1230.5 1220.1,1229.2 1230.2,1229.9 1240.2,1228.2 1250.3,1231.5 1260.4,1229.2 1272.1,1225.8 1280.5,1229.9 1287.3,1227.5 1294,1231.5 1307.4,1224.8 1320.8,1227.2 1327.6,1233.2 1330.9,1223.1 1337.6,1225.5 1344.4,1224.2 1354.4,1224.2 1357.8,1229.9 1362.8,1224.2 1372.9,1229.9 1378,1227.5 1384.7,1231.5 1393.1,1230.2 1408.2,1232.2 1421.6,1227.5 1428.3,1228.2 1433.4,1224.8 1441.8,1225.5 1445.1,1231.5 1455.2,1224.2 1468.7,1219.8 1478.7,1204.7 1485.4,1194.6 1495.5,1157.6 1505.6,1125.7 1510.6,1119 1515.7,1119 1525.8,1142.5 1532.5,1169.4 1545.9,1204.7 1556,1226.5 1561,1224.2 1576.1,1231.5 1582.9,1227.5 1592.9,1226.5 1601.3,1222.1 1609.7,1227.2 1621.5,1224.8 1633.2,1225.5 1646.7,1222.5 1653.4,1228.2 1661.8,1225.8 1673.6,1224.8 1680.3,1228.9 1693.7,1227.2 1703.8,1231.5 1710.5,1229.9 1717.2,1233.2 1729,1242.3 1739.1,1237.6 1750.8,1242.3 1760.9,1241 1769.3,1242.3 1777.7,1236.6 1787.8,1236.6 1796.2,1233.2 1804.6,1241 1811.3,1240 1818,1242.3 1823,1242" fill="none" stroke="#000" stroke-width="2.8" stroke-linejoin="round" stroke-linecap="round"/></g><rect x="105" y="0.8" width="951.5" height="556.5" fill="none" stroke="#000" stroke-width="2.2"/><rect x="105.3" y="687" width="951.2" height="556.2" fill="none" stroke="#000" stroke-width="2.2"/><rect x="1210.4" y="0.8" width="610.6" height="556.5" fill="none" stroke="#000" stroke-width="2.2"/><line x1="1210.4" y1="341.2" x2="1821" y2="341.2" stroke="#000" stroke-width="2.2"/><rect x="1210.4" y="687" width="610.6" height="556.2" fill="none" stroke="#000" stroke-width="2.2"/><line x1="1210.4" y1="1027.2" x2="1821" y2="1027.2" stroke="#000" stroke-width="2.2"/><line x1="124.8" y1="557.3" x2="124.8" y2="552" stroke="#000" stroke-width="2"/><line x1="124.8" y1="0.8" x2="124.8" y2="6.1" stroke="#000" stroke-width="2"/><line x1="157.59" y1="557.3" x2="157.59" y2="552" stroke="#000" stroke-width="2"/><line x1="157.59" y1="0.8" x2="157.59" y2="6.1" stroke="#000" stroke-width="2"/><line x1="190.39" y1="557.3" x2="190.39" y2="552" stroke="#000" stroke-width="2"/><line x1="190.39" y1="0.8" x2="190.39" y2="6.1" stroke="#000" stroke-width="2"/><line x1="223.19" y1="557.3" x2="223.19" y2="552" stroke="#000" stroke-width="2"/><line x1="223.19" y1="0.8" x2="223.19" y2="6.1" stroke="#000" stroke-width="2"/><line x1="255.98" y1="557.3" x2="255.98" y2="552" stroke="#000" stroke-width="2"/><line x1="255.98" y1="0.8" x2="255.98" y2="6.1" stroke="#000" stroke-width="2"/><line x1="288.78" y1="557.3" x2="288.78" y2="552" stroke="#000" stroke-width="2"/><line x1="288.78" y1="0.8" x2="288.78" y2="6.1" stroke="#000" stroke-width="2"/><line x1="321.57" y1="557.3" x2="321.57" y2="552" stroke="#000" stroke-width="2"/><line x1="321.57" y1="0.8" x2="321.57" y2="6.1" stroke="#000" stroke-width="2"/><line x1="354.37" y1="557.3" x2="354.37" y2="552" stroke="#000" stroke-width="2"/><line x1="354.37" y1="0.8" x2="354.37" y2="6.1" stroke="#000" stroke-width="2"/><line x1="387.16" y1="557.3" x2="387.16" y2="552" stroke="#000" stroke-width="2"/><line x1="387.16" y1="0.8" x2="387.16" y2="6.1" stroke="#000" stroke-width="2"/><line x1="419.96" y1="557.3" x2="419.96" y2="552" stroke="#000" stroke-width="2"/><line x1="419.96" y1="0.8" x2="419.96" y2="6.1" stroke="#000" stroke-width="2"/><line x1="452.75" y1="557.3" x2="452.75" y2="552" stroke="#000" stroke-width="2"/><line x1="452.75" y1="0.8" x2="452.75" y2="6.1" stroke="#000" stroke-width="2"/><line x1="485.55" y1="557.3" x2="485.55" y2="552" stroke="#000" stroke-width="2"/><line x1="485.55" y1="0.8" x2="485.55" y2="6.1" stroke="#000" stroke-width="2"/><line x1="518.34" y1="557.3" x2="518.34" y2="552" stroke="#000" stroke-width="2"/><line x1="518.34" y1="0.8" x2="518.34" y2="6.1" stroke="#000" stroke-width="2"/><line x1="551.13" y1="557.3" x2="551.13" y2="552" stroke="#000" stroke-width="2"/><line x1="551.13" y1="0.8" x2="551.13" y2="6.1" stroke="#000" stroke-width="2"/><line x1="583.93" y1="557.3" x2="583.93" y2="552" stroke="#000" stroke-width="2"/><line x1="583.93" y1="0.8" x2="583.93" y2="6.1" stroke="#000" stroke-width="2"/><line x1="616.73" y1="557.3" x2="616.73" y2="552" stroke="#000" stroke-width="2"/><line x1="616.73" y1="0.8" x2="616.73" y2="6.1" stroke="#000" stroke-width="2"/><line x1="649.52" y1="557.3" x2="649.52" y2="552" stroke="#000" stroke-width="2"/><line x1="649.52" y1="0.8" x2="649.52" y2="6.1" stroke="#000" stroke-width="2"/><line x1="682.31" y1="557.3" x2="682.31" y2="552" stroke="#000" stroke-width="2"/><line x1="682.31" y1="0.8" x2="682.31" y2="6.1" stroke="#000" stroke-width="2"/><line x1="715.11" y1="557.3" x2="715.11" y2="552" stroke="#000" stroke-width="2"/><line x1="715.11" y1="0.8" x2="715.11" y2="6.1" stroke="#000" stroke-width="2"/><line x1="747.9" y1="557.3" x2="747.9" y2="552" stroke="#000" stroke-width="2"/><line x1="747.9" y1="0.8" x2="747.9" y2="6.1" stroke="#000" stroke-width="2"/><line x1="780.7" y1="557.3" x2="780.7" y2="552" stroke="#000" stroke-width="2"/><line x1="780.7" y1="0.8" x2="780.7" y2="6.1" stroke="#000" stroke-width="2"/><line x1="813.5" y1="557.3" x2="813.5" y2="552" stroke="#000" stroke-width="2"/><line x1="813.5" y1="0.8" x2="813.5" y2="6.1" stroke="#000" stroke-width="2"/><line x1="846.29" y1="557.3" x2="846.29" y2="552" stroke="#000" stroke-width="2"/><line x1="846.29" y1="0.8" x2="846.29" y2="6.1" stroke="#000" stroke-width="2"/><line x1="879.09" y1="557.3" x2="879.09" y2="552" stroke="#000" stroke-width="2"/><line x1="879.09" y1="0.8" x2="879.09" y2="6.1" stroke="#000" stroke-width="2"/><line x1="911.88" y1="557.3" x2="911.88" y2="552" stroke="#000" stroke-width="2"/><line x1="911.88" y1="0.8" x2="911.88" y2="6.1" stroke="#000" stroke-width="2"/><line x1="944.67" y1="557.3" x2="944.67" y2="552" stroke="#000" stroke-width="2"/><line x1="944.67" y1="0.8" x2="944.67" y2="6.1" stroke="#000" stroke-width="2"/><line x1="977.47" y1="557.3" x2="977.47" y2="552" stroke="#000" stroke-width="2"/><line x1="977.47" y1="0.8" x2="977.47" y2="6.1" stroke="#000" stroke-width="2"/><line x1="1010.26" y1="557.3" x2="1010.26" y2="552" stroke="#000" stroke-width="2"/><line x1="1010.26" y1="0.8" x2="1010.26" y2="6.1" stroke="#000" stroke-width="2"/><line x1="1043.06" y1="557.3" x2="1043.06" y2="552" stroke="#000" stroke-width="2"/><line x1="1043.06" y1="0.8" x2="1043.06" y2="6.1" stroke="#000" stroke-width="2"/><line x1="124.8" y1="557.3" x2="124.8" y2="546.3" stroke="#000" stroke-width="2"/><line x1="124.8" y1="0.8" x2="124.8" y2="11.8" stroke="#000" stroke-width="2"/><line x1="255.98" y1="557.3" x2="255.98" y2="546.3" stroke="#000" stroke-width="2"/><line x1="255.98" y1="0.8" x2="255.98" y2="11.8" stroke="#000" stroke-width="2"/><line x1="387.16" y1="557.3" x2="387.16" y2="546.3" stroke="#000" stroke-width="2"/><line x1="387.16" y1="0.8" x2="387.16" y2="11.8" stroke="#000" stroke-width="2"/><line x1="518.34" y1="557.3" x2="518.34" y2="546.3" stroke="#000" stroke-width="2"/><line x1="518.34" y1="0.8" x2="518.34" y2="11.8" stroke="#000" stroke-width="2"/><line x1="649.52" y1="557.3" x2="649.52" y2="546.3" stroke="#000" stroke-width="2"/><line x1="649.52" y1="0.8" x2="649.52" y2="11.8" stroke="#000" stroke-width="2"/><line x1="780.7" y1="557.3" x2="780.7" y2="546.3" stroke="#000" stroke-width="2"/><line x1="780.7" y1="0.8" x2="780.7" y2="11.8" stroke="#000" stroke-width="2"/><line x1="911.88" y1="557.3" x2="911.88" y2="546.3" stroke="#000" stroke-width="2"/><line x1="911.88" y1="0.8" x2="911.88" y2="11.8" stroke="#000" stroke-width="2"/><line x1="1043.06" y1="557.3" x2="1043.06" y2="546.3" stroke="#000" stroke-width="2"/><line x1="1043.06" y1="0.8" x2="1043.06" y2="11.8" stroke="#000" stroke-width="2"/><line x1="105" y1="553.14" x2="112" y2="553.14" stroke="#000" stroke-width="2"/><line x1="1056.5" y1="553.14" x2="1049.5" y2="553.14" stroke="#000" stroke-width="2"/><line x1="105" y1="531.03" x2="112" y2="531.03" stroke="#000" stroke-width="2"/><line x1="1056.5" y1="531.03" x2="1049.5" y2="531.03" stroke="#000" stroke-width="2"/><line x1="105" y1="508.92" x2="112" y2="508.92" stroke="#000" stroke-width="2"/><line x1="1056.5" y1="508.92" x2="1049.5" y2="508.92" stroke="#000" stroke-width="2"/><line x1="105" y1="486.8" x2="112" y2="486.8" stroke="#000" stroke-width="2"/><line x1="1056.5" y1="486.8" x2="1049.5" y2="486.8" stroke="#000" stroke-width="2"/><line x1="105" y1="464.69" x2="112" y2="464.69" stroke="#000" stroke-width="2"/><line x1="1056.5" y1="464.69" x2="1049.5" y2="464.69" stroke="#000" stroke-width="2"/><line x1="105" y1="442.57" x2="112" y2="442.57" stroke="#000" stroke-width="2"/><line x1="1056.5" y1="442.57" x2="1049.5" y2="442.57" stroke="#000" stroke-width="2"/><line x1="105" y1="420.45" x2="112" y2="420.45" stroke="#000" stroke-width="2"/><line x1="1056.5" y1="420.45" x2="1049.5" y2="420.45" stroke="#000" stroke-width="2"/><line x1="105" y1="398.34" x2="112" y2="398.34" stroke="#000" stroke-width="2"/><line x1="1056.5" y1="398.34" x2="1049.5" y2="398.34" stroke="#000" stroke-width="2"/><line x1="105" y1="376.23" x2="112" y2="376.23" stroke="#000" stroke-width="2"/><line x1="1056.5" y1="376.23" x2="1049.5" y2="376.23" stroke="#000" stroke-width="2"/><line x1="105" y1="354.11" x2="112" y2="354.11" stroke="#000" stroke-width="2"/><line x1="1056.5" y1="354.11" x2="1049.5" y2="354.11" stroke="#000" stroke-width="2"/><line x1="105" y1="332" x2="112" y2="332" stroke="#000" stroke-width="2"/><line x1="1056.5" y1="332" x2="1049.5" y2="332" stroke="#000" stroke-width="2"/><line x1="105" y1="309.88" x2="112" y2="309.88" stroke="#000" stroke-width="2"/><line x1="1056.5" y1="309.88" x2="1049.5" y2="309.88" stroke="#000" stroke-width="2"/><line x1="105" y1="287.76" x2="112" y2="287.76" stroke="#000" stroke-width="2"/><line x1="1056.5" y1="287.76" x2="1049.5" y2="287.76" stroke="#000" stroke-width="2"/><line x1="105" y1="265.65" x2="112" y2="265.65" stroke="#000" stroke-width="2"/><line x1="1056.5" y1="265.65" x2="1049.5" y2="265.65" stroke="#000" stroke-width="2"/><line x1="105" y1="243.53" x2="112" y2="243.53" stroke="#000" stroke-width="2"/><line x1="1056.5" y1="243.53" x2="1049.5" y2="243.53" stroke="#000" stroke-width="2"/><line x1="105" y1="221.42" x2="112" y2="221.42" stroke="#000" stroke-width="2"/><line x1="1056.5" y1="221.42" x2="1049.5" y2="221.42" stroke="#000" stroke-width="2"/><line x1="105" y1="199.3" x2="112" y2="199.3" stroke="#000" stroke-width="2"/><line x1="1056.5" y1="199.3" x2="1049.5" y2="199.3" stroke="#000" stroke-width="2"/><line x1="105" y1="177.19" x2="112" y2="177.19" stroke="#000" stroke-width="2"/><line x1="1056.5" y1="177.19" x2="1049.5" y2="177.19" stroke="#000" stroke-width="2"/><line x1="105" y1="155.07" x2="112" y2="155.07" stroke="#000" stroke-width="2"/><line x1="1056.5" y1="155.07" x2="1049.5" y2="155.07" stroke="#000" stroke-width="2"/><line x1="105" y1="132.96" x2="112" y2="132.96" stroke="#000" stroke-width="2"/><line x1="1056.5" y1="132.96" x2="1049.5" y2="132.96" stroke="#000" stroke-width="2"/><line x1="105" y1="110.85" x2="112" y2="110.85" stroke="#000" stroke-width="2"/><line x1="1056.5" y1="110.85" x2="1049.5" y2="110.85" stroke="#000" stroke-width="2"/><line x1="105" y1="88.73" x2="112" y2="88.73" stroke="#000" stroke-width="2"/><line x1="1056.5" y1="88.73" x2="1049.5" y2="88.73" stroke="#000" stroke-width="2"/><line x1="105" y1="66.62" x2="112" y2="66.62" stroke="#000" stroke-width="2"/><line x1="1056.5" y1="66.62" x2="1049.5" y2="66.62" stroke="#000" stroke-width="2"/><line x1="105" y1="44.5" x2="112" y2="44.5" stroke="#000" stroke-width="2"/><line x1="1056.5" y1="44.5" x2="1049.5" y2="44.5" stroke="#000" stroke-width="2"/><line x1="105" y1="22.38" x2="112" y2="22.38" stroke="#000" stroke-width="2"/><line x1="1056.5" y1="22.38" x2="1049.5" y2="22.38" stroke="#000" stroke-width="2"/><line x1="105" y1="486.8" x2="119.2" y2="486.8" stroke="#000" stroke-width="2"/><line x1="1056.5" y1="486.8" x2="1042.3" y2="486.8" stroke="#000" stroke-width="2"/><line x1="105" y1="398.34" x2="119.2" y2="398.34" stroke="#000" stroke-width="2"/><line x1="1056.5" y1="398.34" x2="1042.3" y2="398.34" stroke="#000" stroke-width="2"/><line x1="105" y1="309.88" x2="119.2" y2="309.88" stroke="#000" stroke-width="2"/><line x1="1056.5" y1="309.88" x2="1042.3" y2="309.88" stroke="#000" stroke-width="2"/><line x1="105" y1="221.42" x2="119.2" y2="221.42" stroke="#000" stroke-width="2"/><line x1="1056.5" y1="221.42" x2="1042.3" y2="221.42" stroke="#000" stroke-width="2"/><line x1="105" y1="132.96" x2="119.2" y2="132.96" stroke="#000" stroke-width="2"/><line x1="1056.5" y1="132.96" x2="1042.3" y2="132.96" stroke="#000" stroke-width="2"/><line x1="105" y1="44.5" x2="119.2" y2="44.5" stroke="#000" stroke-width="2"/><line x1="1056.5" y1="44.5" x2="1042.3" y2="44.5" stroke="#000" stroke-width="2"/><line x1="108.44" y1="1243.2" x2="108.44" y2="1237.9" stroke="#000" stroke-width="2"/><line x1="108.44" y1="687" x2="108.44" y2="692.3" stroke="#000" stroke-width="2"/><line x1="144.92" y1="1243.2" x2="144.92" y2="1237.9" stroke="#000" stroke-width="2"/><line x1="144.92" y1="687" x2="144.92" y2="692.3" stroke="#000" stroke-width="2"/><line x1="181.4" y1="1243.2" x2="181.4" y2="1237.9" stroke="#000" stroke-width="2"/><line x1="181.4" y1="687" x2="181.4" y2="692.3" stroke="#000" stroke-width="2"/><line x1="217.88" y1="1243.2" x2="217.88" y2="1237.9" stroke="#000" stroke-width="2"/><line x1="217.88" y1="687" x2="217.88" y2="692.3" stroke="#000" stroke-width="2"/><line x1="254.36" y1="1243.2" x2="254.36" y2="1237.9" stroke="#000" stroke-width="2"/><line x1="254.36" y1="687" x2="254.36" y2="692.3" stroke="#000" stroke-width="2"/><line x1="290.84" y1="1243.2" x2="290.84" y2="1237.9" stroke="#000" stroke-width="2"/><line x1="290.84" y1="687" x2="290.84" y2="692.3" stroke="#000" stroke-width="2"/><line x1="327.32" y1="1243.2" x2="327.32" y2="1237.9" stroke="#000" stroke-width="2"/><line x1="327.32" y1="687" x2="327.32" y2="692.3" stroke="#000" stroke-width="2"/><line x1="363.8" y1="1243.2" x2="363.8" y2="1237.9" stroke="#000" stroke-width="2"/><line x1="363.8" y1="687" x2="363.8" y2="692.3" stroke="#000" stroke-width="2"/><line x1="400.28" y1="1243.2" x2="400.28" y2="1237.9" stroke="#000" stroke-width="2"/><line x1="400.28" y1="687" x2="400.28" y2="692.3" stroke="#000" stroke-width="2"/><line x1="436.76" y1="1243.2" x2="436.76" y2="1237.9" stroke="#000" stroke-width="2"/><line x1="436.76" y1="687" x2="436.76" y2="692.3" stroke="#000" stroke-width="2"/><line x1="473.24" y1="1243.2" x2="473.24" y2="1237.9" stroke="#000" stroke-width="2"/><line x1="473.24" y1="687" x2="473.24" y2="692.3" stroke="#000" stroke-width="2"/><line x1="509.72" y1="1243.2" x2="509.72" y2="1237.9" stroke="#000" stroke-width="2"/><line x1="509.72" y1="687" x2="509.72" y2="692.3" stroke="#000" stroke-width="2"/><line x1="546.2" y1="1243.2" x2="546.2" y2="1237.9" stroke="#000" stroke-width="2"/><line x1="546.2" y1="687" x2="546.2" y2="692.3" stroke="#000" stroke-width="2"/><line x1="582.68" y1="1243.2" x2="582.68" y2="1237.9" stroke="#000" stroke-width="2"/><line x1="582.68" y1="687" x2="582.68" y2="692.3" stroke="#000" stroke-width="2"/><line x1="619.16" y1="1243.2" x2="619.16" y2="1237.9" stroke="#000" stroke-width="2"/><line x1="619.16" y1="687" x2="619.16" y2="692.3" stroke="#000" stroke-width="2"/><line x1="655.64" y1="1243.2" x2="655.64" y2="1237.9" stroke="#000" stroke-width="2"/><line x1="655.64" y1="687" x2="655.64" y2="692.3" stroke="#000" stroke-width="2"/><line x1="692.12" y1="1243.2" x2="692.12" y2="1237.9" stroke="#000" stroke-width="2"/><line x1="692.12" y1="687" x2="692.12" y2="692.3" stroke="#000" stroke-width="2"/><line x1="728.6" y1="1243.2" x2="728.6" y2="1237.9" stroke="#000" stroke-width="2"/><line x1="728.6" y1="687" x2="728.6" y2="692.3" stroke="#000" stroke-width="2"/><line x1="765.08" y1="1243.2" x2="765.08" y2="1237.9" stroke="#000" stroke-width="2"/><line x1="765.08" y1="687" x2="765.08" y2="692.3" stroke="#000" stroke-width="2"/><line x1="801.56" y1="1243.2" x2="801.56" y2="1237.9" stroke="#000" stroke-width="2"/><line x1="801.56" y1="687" x2="801.56" y2="692.3" stroke="#000" stroke-width="2"/><line x1="838.04" y1="1243.2" x2="838.04" y2="1237.9" stroke="#000" stroke-width="2"/><line x1="838.04" y1="687" x2="838.04" y2="692.3" stroke="#000" stroke-width="2"/><line x1="874.52" y1="1243.2" x2="874.52" y2="1237.9" stroke="#000" stroke-width="2"/><line x1="874.52" y1="687" x2="874.52" y2="692.3" stroke="#000" stroke-width="2"/><line x1="911" y1="1243.2" x2="911" y2="1237.9" stroke="#000" stroke-width="2"/><line x1="911" y1="687" x2="911" y2="692.3" stroke="#000" stroke-width="2"/><line x1="947.48" y1="1243.2" x2="947.48" y2="1237.9" stroke="#000" stroke-width="2"/><line x1="947.48" y1="687" x2="947.48" y2="692.3" stroke="#000" stroke-width="2"/><line x1="983.96" y1="1243.2" x2="983.96" y2="1237.9" stroke="#000" stroke-width="2"/><line x1="983.96" y1="687" x2="983.96" y2="692.3" stroke="#000" stroke-width="2"/><line x1="1020.44" y1="1243.2" x2="1020.44" y2="1237.9" stroke="#000" stroke-width="2"/><line x1="1020.44" y1="687" x2="1020.44" y2="692.3" stroke="#000" stroke-width="2"/><line x1="181.4" y1="1243.2" x2="181.4" y2="1232.2" stroke="#000" stroke-width="2"/><line x1="181.4" y1="687" x2="181.4" y2="698" stroke="#000" stroke-width="2"/><line x1="363.8" y1="1243.2" x2="363.8" y2="1232.2" stroke="#000" stroke-width="2"/><line x1="363.8" y1="687" x2="363.8" y2="698" stroke="#000" stroke-width="2"/><line x1="546.2" y1="1243.2" x2="546.2" y2="1232.2" stroke="#000" stroke-width="2"/><line x1="546.2" y1="687" x2="546.2" y2="698" stroke="#000" stroke-width="2"/><line x1="728.6" y1="1243.2" x2="728.6" y2="1232.2" stroke="#000" stroke-width="2"/><line x1="728.6" y1="687" x2="728.6" y2="698" stroke="#000" stroke-width="2"/><line x1="911" y1="1243.2" x2="911" y2="1232.2" stroke="#000" stroke-width="2"/><line x1="911" y1="687" x2="911" y2="698" stroke="#000" stroke-width="2"/><line x1="105.3" y1="1228.56" x2="112.3" y2="1228.56" stroke="#000" stroke-width="2"/><line x1="1056.5" y1="1228.56" x2="1049.5" y2="1228.56" stroke="#000" stroke-width="2"/><line x1="105.3" y1="1213.92" x2="112.3" y2="1213.92" stroke="#000" stroke-width="2"/><line x1="1056.5" y1="1213.92" x2="1049.5" y2="1213.92" stroke="#000" stroke-width="2"/><line x1="105.3" y1="1199.28" x2="112.3" y2="1199.28" stroke="#000" stroke-width="2"/><line x1="1056.5" y1="1199.28" x2="1049.5" y2="1199.28" stroke="#000" stroke-width="2"/><line x1="105.3" y1="1184.64" x2="112.3" y2="1184.64" stroke="#000" stroke-width="2"/><line x1="1056.5" y1="1184.64" x2="1049.5" y2="1184.64" stroke="#000" stroke-width="2"/><line x1="105.3" y1="1170" x2="112.3" y2="1170" stroke="#000" stroke-width="2"/><line x1="1056.5" y1="1170" x2="1049.5" y2="1170" stroke="#000" stroke-width="2"/><line x1="105.3" y1="1155.36" x2="112.3" y2="1155.36" stroke="#000" stroke-width="2"/><line x1="1056.5" y1="1155.36" x2="1049.5" y2="1155.36" stroke="#000" stroke-width="2"/><line x1="105.3" y1="1140.72" x2="112.3" y2="1140.72" stroke="#000" stroke-width="2"/><line x1="1056.5" y1="1140.72" x2="1049.5" y2="1140.72" stroke="#000" stroke-width="2"/><line x1="105.3" y1="1126.08" x2="112.3" y2="1126.08" stroke="#000" stroke-width="2"/><line x1="1056.5" y1="1126.08" x2="1049.5" y2="1126.08" stroke="#000" stroke-width="2"/><line x1="105.3" y1="1111.44" x2="112.3" y2="1111.44" stroke="#000" stroke-width="2"/><line x1="1056.5" y1="1111.44" x2="1049.5" y2="1111.44" stroke="#000" stroke-width="2"/><line x1="105.3" y1="1096.8" x2="112.3" y2="1096.8" stroke="#000" stroke-width="2"/><line x1="1056.5" y1="1096.8" x2="1049.5" y2="1096.8" stroke="#000" stroke-width="2"/><line x1="105.3" y1="1082.16" x2="112.3" y2="1082.16" stroke="#000" stroke-width="2"/><line x1="1056.5" y1="1082.16" x2="1049.5" y2="1082.16" stroke="#000" stroke-width="2"/><line x1="105.3" y1="1067.52" x2="112.3" y2="1067.52" stroke="#000" stroke-width="2"/><line x1="1056.5" y1="1067.52" x2="1049.5" y2="1067.52" stroke="#000" stroke-width="2"/><line x1="105.3" y1="1052.88" x2="112.3" y2="1052.88" stroke="#000" stroke-width="2"/><line x1="1056.5" y1="1052.88" x2="1049.5" y2="1052.88" stroke="#000" stroke-width="2"/><line x1="105.3" y1="1038.24" x2="112.3" y2="1038.24" stroke="#000" stroke-width="2"/><line x1="1056.5" y1="1038.24" x2="1049.5" y2="1038.24" stroke="#000" stroke-width="2"/><line x1="105.3" y1="1023.6" x2="112.3" y2="1023.6" stroke="#000" stroke-width="2"/><line x1="1056.5" y1="1023.6" x2="1049.5" y2="1023.6" stroke="#000" stroke-width="2"/><line x1="105.3" y1="1008.96" x2="112.3" y2="1008.96" stroke="#000" stroke-width="2"/><line x1="1056.5" y1="1008.96" x2="1049.5" y2="1008.96" stroke="#000" stroke-width="2"/><line x1="105.3" y1="994.32" x2="112.3" y2="994.32" stroke="#000" stroke-width="2"/><line x1="1056.5" y1="994.32" x2="1049.5" y2="994.32" stroke="#000" stroke-width="2"/><line x1="105.3" y1="979.68" x2="112.3" y2="979.68" stroke="#000" stroke-width="2"/><line x1="1056.5" y1="979.68" x2="1049.5" y2="979.68" stroke="#000" stroke-width="2"/><line x1="105.3" y1="965.04" x2="112.3" y2="965.04" stroke="#000" stroke-width="2"/><line x1="1056.5" y1="965.04" x2="1049.5" y2="965.04" stroke="#000" stroke-width="2"/><line x1="105.3" y1="950.4" x2="112.3" y2="950.4" stroke="#000" stroke-width="2"/><line x1="1056.5" y1="950.4" x2="1049.5" y2="950.4" stroke="#000" stroke-width="2"/><line x1="105.3" y1="935.76" x2="112.3" y2="935.76" stroke="#000" stroke-width="2"/><line x1="1056.5" y1="935.76" x2="1049.5" y2="935.76" stroke="#000" stroke-width="2"/><line x1="105.3" y1="921.12" x2="112.3" y2="921.12" stroke="#000" stroke-width="2"/><line x1="1056.5" y1="921.12" x2="1049.5" y2="921.12" stroke="#000" stroke-width="2"/><line x1="105.3" y1="906.48" x2="112.3" y2="906.48" stroke="#000" stroke-width="2"/><line x1="1056.5" y1="906.48" x2="1049.5" y2="906.48" stroke="#000" stroke-width="2"/><line x1="105.3" y1="891.84" x2="112.3" y2="891.84" stroke="#000" stroke-width="2"/><line x1="1056.5" y1="891.84" x2="1049.5" y2="891.84" stroke="#000" stroke-width="2"/><line x1="105.3" y1="877.2" x2="112.3" y2="877.2" stroke="#000" stroke-width="2"/><line x1="1056.5" y1="877.2" x2="1049.5" y2="877.2" stroke="#000" stroke-width="2"/><line x1="105.3" y1="862.56" x2="112.3" y2="862.56" stroke="#000" stroke-width="2"/><line x1="1056.5" y1="862.56" x2="1049.5" y2="862.56" stroke="#000" stroke-width="2"/><line x1="105.3" y1="847.92" x2="112.3" y2="847.92" stroke="#000" stroke-width="2"/><line x1="1056.5" y1="847.92" x2="1049.5" y2="847.92" stroke="#000" stroke-width="2"/><line x1="105.3" y1="833.28" x2="112.3" y2="833.28" stroke="#000" stroke-width="2"/><line x1="1056.5" y1="833.28" x2="1049.5" y2="833.28" stroke="#000" stroke-width="2"/><line x1="105.3" y1="818.64" x2="112.3" y2="818.64" stroke="#000" stroke-width="2"/><line x1="1056.5" y1="818.64" x2="1049.5" y2="818.64" stroke="#000" stroke-width="2"/><line x1="105.3" y1="804" x2="112.3" y2="804" stroke="#000" stroke-width="2"/><line x1="1056.5" y1="804" x2="1049.5" y2="804" stroke="#000" stroke-width="2"/><line x1="105.3" y1="789.36" x2="112.3" y2="789.36" stroke="#000" stroke-width="2"/><line x1="1056.5" y1="789.36" x2="1049.5" y2="789.36" stroke="#000" stroke-width="2"/><line x1="105.3" y1="774.72" x2="112.3" y2="774.72" stroke="#000" stroke-width="2"/><line x1="1056.5" y1="774.72" x2="1049.5" y2="774.72" stroke="#000" stroke-width="2"/><line x1="105.3" y1="760.08" x2="112.3" y2="760.08" stroke="#000" stroke-width="2"/><line x1="1056.5" y1="760.08" x2="1049.5" y2="760.08" stroke="#000" stroke-width="2"/><line x1="105.3" y1="745.44" x2="112.3" y2="745.44" stroke="#000" stroke-width="2"/><line x1="1056.5" y1="745.44" x2="1049.5" y2="745.44" stroke="#000" stroke-width="2"/><line x1="105.3" y1="730.8" x2="112.3" y2="730.8" stroke="#000" stroke-width="2"/><line x1="1056.5" y1="730.8" x2="1049.5" y2="730.8" stroke="#000" stroke-width="2"/><line x1="105.3" y1="716.16" x2="112.3" y2="716.16" stroke="#000" stroke-width="2"/><line x1="1056.5" y1="716.16" x2="1049.5" y2="716.16" stroke="#000" stroke-width="2"/><line x1="105.3" y1="701.52" x2="112.3" y2="701.52" stroke="#000" stroke-width="2"/><line x1="1056.5" y1="701.52" x2="1049.5" y2="701.52" stroke="#000" stroke-width="2"/><line x1="105.3" y1="1096.8" x2="119.3" y2="1096.8" stroke="#000" stroke-width="2"/><line x1="1056.5" y1="1096.8" x2="1042.5" y2="1096.8" stroke="#000" stroke-width="2"/><line x1="105.3" y1="950.4" x2="119.3" y2="950.4" stroke="#000" stroke-width="2"/><line x1="1056.5" y1="950.4" x2="1042.5" y2="950.4" stroke="#000" stroke-width="2"/><line x1="105.3" y1="804" x2="119.3" y2="804" stroke="#000" stroke-width="2"/><line x1="1056.5" y1="804" x2="1042.5" y2="804" stroke="#000" stroke-width="2"/><line x1="1233.1" y1="341.2" x2="1233.1" y2="338.7" stroke="#000" stroke-width="2"/><line x1="1233.1" y1="0.8" x2="1233.1" y2="4.8" stroke="#000" stroke-width="2"/><line x1="1256.71" y1="341.2" x2="1256.71" y2="338.7" stroke="#000" stroke-width="2"/><line x1="1256.71" y1="0.8" x2="1256.71" y2="4.8" stroke="#000" stroke-width="2"/><line x1="1280.32" y1="341.2" x2="1280.32" y2="338.7" stroke="#000" stroke-width="2"/><line x1="1280.32" y1="0.8" x2="1280.32" y2="4.8" stroke="#000" stroke-width="2"/><line x1="1303.93" y1="341.2" x2="1303.93" y2="338.7" stroke="#000" stroke-width="2"/><line x1="1303.93" y1="0.8" x2="1303.93" y2="4.8" stroke="#000" stroke-width="2"/><line x1="1327.54" y1="341.2" x2="1327.54" y2="338.7" stroke="#000" stroke-width="2"/><line x1="1327.54" y1="0.8" x2="1327.54" y2="4.8" stroke="#000" stroke-width="2"/><line x1="1351.15" y1="341.2" x2="1351.15" y2="338.7" stroke="#000" stroke-width="2"/><line x1="1351.15" y1="0.8" x2="1351.15" y2="4.8" stroke="#000" stroke-width="2"/><line x1="1374.76" y1="341.2" x2="1374.76" y2="338.7" stroke="#000" stroke-width="2"/><line x1="1374.76" y1="0.8" x2="1374.76" y2="4.8" stroke="#000" stroke-width="2"/><line x1="1398.37" y1="341.2" x2="1398.37" y2="338.7" stroke="#000" stroke-width="2"/><line x1="1398.37" y1="0.8" x2="1398.37" y2="4.8" stroke="#000" stroke-width="2"/><line x1="1421.98" y1="341.2" x2="1421.98" y2="338.7" stroke="#000" stroke-width="2"/><line x1="1421.98" y1="0.8" x2="1421.98" y2="4.8" stroke="#000" stroke-width="2"/><line x1="1445.59" y1="341.2" x2="1445.59" y2="338.7" stroke="#000" stroke-width="2"/><line x1="1445.59" y1="0.8" x2="1445.59" y2="4.8" stroke="#000" stroke-width="2"/><line x1="1469.2" y1="341.2" x2="1469.2" y2="338.7" stroke="#000" stroke-width="2"/><line x1="1469.2" y1="0.8" x2="1469.2" y2="4.8" stroke="#000" stroke-width="2"/><line x1="1492.81" y1="341.2" x2="1492.81" y2="338.7" stroke="#000" stroke-width="2"/><line x1="1492.81" y1="0.8" x2="1492.81" y2="4.8" stroke="#000" stroke-width="2"/><line x1="1516.42" y1="341.2" x2="1516.42" y2="338.7" stroke="#000" stroke-width="2"/><line x1="1516.42" y1="0.8" x2="1516.42" y2="4.8" stroke="#000" stroke-width="2"/><line x1="1540.03" y1="341.2" x2="1540.03" y2="338.7" stroke="#000" stroke-width="2"/><line x1="1540.03" y1="0.8" x2="1540.03" y2="4.8" stroke="#000" stroke-width="2"/><line x1="1563.64" y1="341.2" x2="1563.64" y2="338.7" stroke="#000" stroke-width="2"/><line x1="1563.64" y1="0.8" x2="1563.64" y2="4.8" stroke="#000" stroke-width="2"/><line x1="1587.25" y1="341.2" x2="1587.25" y2="338.7" stroke="#000" stroke-width="2"/><line x1="1587.25" y1="0.8" x2="1587.25" y2="4.8" stroke="#000" stroke-width="2"/><line x1="1610.86" y1="341.2" x2="1610.86" y2="338.7" stroke="#000" stroke-width="2"/><line x1="1610.86" y1="0.8" x2="1610.86" y2="4.8" stroke="#000" stroke-width="2"/><line x1="1634.47" y1="341.2" x2="1634.47" y2="338.7" stroke="#000" stroke-width="2"/><line x1="1634.47" y1="0.8" x2="1634.47" y2="4.8" stroke="#000" stroke-width="2"/><line x1="1658.08" y1="341.2" x2="1658.08" y2="338.7" stroke="#000" stroke-width="2"/><line x1="1658.08" y1="0.8" x2="1658.08" y2="4.8" stroke="#000" stroke-width="2"/><line x1="1681.69" y1="341.2" x2="1681.69" y2="338.7" stroke="#000" stroke-width="2"/><line x1="1681.69" y1="0.8" x2="1681.69" y2="4.8" stroke="#000" stroke-width="2"/><line x1="1705.3" y1="341.2" x2="1705.3" y2="338.7" stroke="#000" stroke-width="2"/><line x1="1705.3" y1="0.8" x2="1705.3" y2="4.8" stroke="#000" stroke-width="2"/><line x1="1728.91" y1="341.2" x2="1728.91" y2="338.7" stroke="#000" stroke-width="2"/><line x1="1728.91" y1="0.8" x2="1728.91" y2="4.8" stroke="#000" stroke-width="2"/><line x1="1752.52" y1="341.2" x2="1752.52" y2="338.7" stroke="#000" stroke-width="2"/><line x1="1752.52" y1="0.8" x2="1752.52" y2="4.8" stroke="#000" stroke-width="2"/><line x1="1776.13" y1="341.2" x2="1776.13" y2="338.7" stroke="#000" stroke-width="2"/><line x1="1776.13" y1="0.8" x2="1776.13" y2="4.8" stroke="#000" stroke-width="2"/><line x1="1799.74" y1="341.2" x2="1799.74" y2="338.7" stroke="#000" stroke-width="2"/><line x1="1799.74" y1="0.8" x2="1799.74" y2="4.8" stroke="#000" stroke-width="2"/><line x1="1233.1" y1="341.2" x2="1233.1" y2="335.2" stroke="#000" stroke-width="2"/><line x1="1233.1" y1="0.8" x2="1233.1" y2="7.8" stroke="#000" stroke-width="2"/><line x1="1351.15" y1="341.2" x2="1351.15" y2="335.2" stroke="#000" stroke-width="2"/><line x1="1351.15" y1="0.8" x2="1351.15" y2="7.8" stroke="#000" stroke-width="2"/><line x1="1469.2" y1="341.2" x2="1469.2" y2="335.2" stroke="#000" stroke-width="2"/><line x1="1469.2" y1="0.8" x2="1469.2" y2="7.8" stroke="#000" stroke-width="2"/><line x1="1587.25" y1="341.2" x2="1587.25" y2="335.2" stroke="#000" stroke-width="2"/><line x1="1587.25" y1="0.8" x2="1587.25" y2="7.8" stroke="#000" stroke-width="2"/><line x1="1705.3" y1="341.2" x2="1705.3" y2="335.2" stroke="#000" stroke-width="2"/><line x1="1705.3" y1="0.8" x2="1705.3" y2="7.8" stroke="#000" stroke-width="2"/><line x1="1233.1" y1="557.3" x2="1233.1" y2="555.3" stroke="#000" stroke-width="2"/><line x1="1233.1" y1="341.2" x2="1233.1" y2="343.4" stroke="#000" stroke-width="2"/><line x1="1256.71" y1="557.3" x2="1256.71" y2="555.3" stroke="#000" stroke-width="2"/><line x1="1256.71" y1="341.2" x2="1256.71" y2="343.4" stroke="#000" stroke-width="2"/><line x1="1280.32" y1="557.3" x2="1280.32" y2="555.3" stroke="#000" stroke-width="2"/><line x1="1280.32" y1="341.2" x2="1280.32" y2="343.4" stroke="#000" stroke-width="2"/><line x1="1303.93" y1="557.3" x2="1303.93" y2="555.3" stroke="#000" stroke-width="2"/><line x1="1303.93" y1="341.2" x2="1303.93" y2="343.4" stroke="#000" stroke-width="2"/><line x1="1327.54" y1="557.3" x2="1327.54" y2="555.3" stroke="#000" stroke-width="2"/><line x1="1327.54" y1="341.2" x2="1327.54" y2="343.4" stroke="#000" stroke-width="2"/><line x1="1351.15" y1="557.3" x2="1351.15" y2="555.3" stroke="#000" stroke-width="2"/><line x1="1351.15" y1="341.2" x2="1351.15" y2="343.4" stroke="#000" stroke-width="2"/><line x1="1374.76" y1="557.3" x2="1374.76" y2="555.3" stroke="#000" stroke-width="2"/><line x1="1374.76" y1="341.2" x2="1374.76" y2="343.4" stroke="#000" stroke-width="2"/><line x1="1398.37" y1="557.3" x2="1398.37" y2="555.3" stroke="#000" stroke-width="2"/><line x1="1398.37" y1="341.2" x2="1398.37" y2="343.4" stroke="#000" stroke-width="2"/><line x1="1421.98" y1="557.3" x2="1421.98" y2="555.3" stroke="#000" stroke-width="2"/><line x1="1421.98" y1="341.2" x2="1421.98" y2="343.4" stroke="#000" stroke-width="2"/><line x1="1445.59" y1="557.3" x2="1445.59" y2="555.3" stroke="#000" stroke-width="2"/><line x1="1445.59" y1="341.2" x2="1445.59" y2="343.4" stroke="#000" stroke-width="2"/><line x1="1469.2" y1="557.3" x2="1469.2" y2="555.3" stroke="#000" stroke-width="2"/><line x1="1469.2" y1="341.2" x2="1469.2" y2="343.4" stroke="#000" stroke-width="2"/><line x1="1492.81" y1="557.3" x2="1492.81" y2="555.3" stroke="#000" stroke-width="2"/><line x1="1492.81" y1="341.2" x2="1492.81" y2="343.4" stroke="#000" stroke-width="2"/><line x1="1516.42" y1="557.3" x2="1516.42" y2="555.3" stroke="#000" stroke-width="2"/><line x1="1516.42" y1="341.2" x2="1516.42" y2="343.4" stroke="#000" stroke-width="2"/><line x1="1540.03" y1="557.3" x2="1540.03" y2="555.3" stroke="#000" stroke-width="2"/><line x1="1540.03" y1="341.2" x2="1540.03" y2="343.4" stroke="#000" stroke-width="2"/><line x1="1563.64" y1="557.3" x2="1563.64" y2="555.3" stroke="#000" stroke-width="2"/><line x1="1563.64" y1="341.2" x2="1563.64" y2="343.4" stroke="#000" stroke-width="2"/><line x1="1587.25" y1="557.3" x2="1587.25" y2="555.3" stroke="#000" stroke-width="2"/><line x1="1587.25" y1="341.2" x2="1587.25" y2="343.4" stroke="#000" stroke-width="2"/><line x1="1610.86" y1="557.3" x2="1610.86" y2="555.3" stroke="#000" stroke-width="2"/><line x1="1610.86" y1="341.2" x2="1610.86" y2="343.4" stroke="#000" stroke-width="2"/><line x1="1634.47" y1="557.3" x2="1634.47" y2="555.3" stroke="#000" stroke-width="2"/><line x1="1634.47" y1="341.2" x2="1634.47" y2="343.4" stroke="#000" stroke-width="2"/><line x1="1658.08" y1="557.3" x2="1658.08" y2="555.3" stroke="#000" stroke-width="2"/><line x1="1658.08" y1="341.2" x2="1658.08" y2="343.4" stroke="#000" stroke-width="2"/><line x1="1681.69" y1="557.3" x2="1681.69" y2="555.3" stroke="#000" stroke-width="2"/><line x1="1681.69" y1="341.2" x2="1681.69" y2="343.4" stroke="#000" stroke-width="2"/><line x1="1705.3" y1="557.3" x2="1705.3" y2="555.3" stroke="#000" stroke-width="2"/><line x1="1705.3" y1="341.2" x2="1705.3" y2="343.4" stroke="#000" stroke-width="2"/><line x1="1728.91" y1="557.3" x2="1728.91" y2="555.3" stroke="#000" stroke-width="2"/><line x1="1728.91" y1="341.2" x2="1728.91" y2="343.4" stroke="#000" stroke-width="2"/><line x1="1752.52" y1="557.3" x2="1752.52" y2="555.3" stroke="#000" stroke-width="2"/><line x1="1752.52" y1="341.2" x2="1752.52" y2="343.4" stroke="#000" stroke-width="2"/><line x1="1776.13" y1="557.3" x2="1776.13" y2="555.3" stroke="#000" stroke-width="2"/><line x1="1776.13" y1="341.2" x2="1776.13" y2="343.4" stroke="#000" stroke-width="2"/><line x1="1799.74" y1="557.3" x2="1799.74" y2="555.3" stroke="#000" stroke-width="2"/><line x1="1799.74" y1="341.2" x2="1799.74" y2="343.4" stroke="#000" stroke-width="2"/><line x1="1233.1" y1="557.3" x2="1233.1" y2="552.8" stroke="#000" stroke-width="2"/><line x1="1233.1" y1="341.2" x2="1233.1" y2="345.9" stroke="#000" stroke-width="2"/><line x1="1351.15" y1="557.3" x2="1351.15" y2="552.8" stroke="#000" stroke-width="2"/><line x1="1351.15" y1="341.2" x2="1351.15" y2="345.9" stroke="#000" stroke-width="2"/><line x1="1469.2" y1="557.3" x2="1469.2" y2="552.8" stroke="#000" stroke-width="2"/><line x1="1469.2" y1="341.2" x2="1469.2" y2="345.9" stroke="#000" stroke-width="2"/><line x1="1587.25" y1="557.3" x2="1587.25" y2="552.8" stroke="#000" stroke-width="2"/><line x1="1587.25" y1="341.2" x2="1587.25" y2="345.9" stroke="#000" stroke-width="2"/><line x1="1705.3" y1="557.3" x2="1705.3" y2="552.8" stroke="#000" stroke-width="2"/><line x1="1705.3" y1="341.2" x2="1705.3" y2="345.9" stroke="#000" stroke-width="2"/><line x1="1210.4" y1="325.86" x2="1214.9" y2="325.86" stroke="#000" stroke-width="2"/><line x1="1821" y1="325.86" x2="1816.5" y2="325.86" stroke="#000" stroke-width="2"/><line x1="1210.4" y1="310.4" x2="1214.9" y2="310.4" stroke="#000" stroke-width="2"/><line x1="1821" y1="310.4" x2="1816.5" y2="310.4" stroke="#000" stroke-width="2"/><line x1="1210.4" y1="294.94" x2="1214.9" y2="294.94" stroke="#000" stroke-width="2"/><line x1="1821" y1="294.94" x2="1816.5" y2="294.94" stroke="#000" stroke-width="2"/><line x1="1210.4" y1="279.48" x2="1214.9" y2="279.48" stroke="#000" stroke-width="2"/><line x1="1821" y1="279.48" x2="1816.5" y2="279.48" stroke="#000" stroke-width="2"/><line x1="1210.4" y1="264.02" x2="1214.9" y2="264.02" stroke="#000" stroke-width="2"/><line x1="1821" y1="264.02" x2="1816.5" y2="264.02" stroke="#000" stroke-width="2"/><line x1="1210.4" y1="248.56" x2="1214.9" y2="248.56" stroke="#000" stroke-width="2"/><line x1="1821" y1="248.56" x2="1816.5" y2="248.56" stroke="#000" stroke-width="2"/><line x1="1210.4" y1="233.1" x2="1214.9" y2="233.1" stroke="#000" stroke-width="2"/><line x1="1821" y1="233.1" x2="1816.5" y2="233.1" stroke="#000" stroke-width="2"/><line x1="1210.4" y1="217.64" x2="1214.9" y2="217.64" stroke="#000" stroke-width="2"/><line x1="1821" y1="217.64" x2="1816.5" y2="217.64" stroke="#000" stroke-width="2"/><line x1="1210.4" y1="202.18" x2="1214.9" y2="202.18" stroke="#000" stroke-width="2"/><line x1="1821" y1="202.18" x2="1816.5" y2="202.18" stroke="#000" stroke-width="2"/><line x1="1210.4" y1="186.72" x2="1214.9" y2="186.72" stroke="#000" stroke-width="2"/><line x1="1821" y1="186.72" x2="1816.5" y2="186.72" stroke="#000" stroke-width="2"/><line x1="1210.4" y1="171.26" x2="1214.9" y2="171.26" stroke="#000" stroke-width="2"/><line x1="1821" y1="171.26" x2="1816.5" y2="171.26" stroke="#000" stroke-width="2"/><line x1="1210.4" y1="155.8" x2="1214.9" y2="155.8" stroke="#000" stroke-width="2"/><line x1="1821" y1="155.8" x2="1816.5" y2="155.8" stroke="#000" stroke-width="2"/><line x1="1210.4" y1="140.34" x2="1214.9" y2="140.34" stroke="#000" stroke-width="2"/><line x1="1821" y1="140.34" x2="1816.5" y2="140.34" stroke="#000" stroke-width="2"/><line x1="1210.4" y1="124.88" x2="1214.9" y2="124.88" stroke="#000" stroke-width="2"/><line x1="1821" y1="124.88" x2="1816.5" y2="124.88" stroke="#000" stroke-width="2"/><line x1="1210.4" y1="109.42" x2="1214.9" y2="109.42" stroke="#000" stroke-width="2"/><line x1="1821" y1="109.42" x2="1816.5" y2="109.42" stroke="#000" stroke-width="2"/><line x1="1210.4" y1="93.96" x2="1214.9" y2="93.96" stroke="#000" stroke-width="2"/><line x1="1821" y1="93.96" x2="1816.5" y2="93.96" stroke="#000" stroke-width="2"/><line x1="1210.4" y1="78.5" x2="1214.9" y2="78.5" stroke="#000" stroke-width="2"/><line x1="1821" y1="78.5" x2="1816.5" y2="78.5" stroke="#000" stroke-width="2"/><line x1="1210.4" y1="63.04" x2="1214.9" y2="63.04" stroke="#000" stroke-width="2"/><line x1="1821" y1="63.04" x2="1816.5" y2="63.04" stroke="#000" stroke-width="2"/><line x1="1210.4" y1="47.58" x2="1214.9" y2="47.58" stroke="#000" stroke-width="2"/><line x1="1821" y1="47.58" x2="1816.5" y2="47.58" stroke="#000" stroke-width="2"/><line x1="1210.4" y1="32.12" x2="1214.9" y2="32.12" stroke="#000" stroke-width="2"/><line x1="1821" y1="32.12" x2="1816.5" y2="32.12" stroke="#000" stroke-width="2"/><line x1="1210.4" y1="16.66" x2="1214.9" y2="16.66" stroke="#000" stroke-width="2"/><line x1="1821" y1="16.66" x2="1816.5" y2="16.66" stroke="#000" stroke-width="2"/><line x1="1210.4" y1="310.4" x2="1219.4" y2="310.4" stroke="#000" stroke-width="2"/><line x1="1821" y1="310.4" x2="1812" y2="310.4" stroke="#000" stroke-width="2"/><line x1="1210.4" y1="233.1" x2="1219.4" y2="233.1" stroke="#000" stroke-width="2"/><line x1="1821" y1="233.1" x2="1812" y2="233.1" stroke="#000" stroke-width="2"/><line x1="1210.4" y1="155.8" x2="1219.4" y2="155.8" stroke="#000" stroke-width="2"/><line x1="1821" y1="155.8" x2="1812" y2="155.8" stroke="#000" stroke-width="2"/><line x1="1210.4" y1="78.5" x2="1219.4" y2="78.5" stroke="#000" stroke-width="2"/><line x1="1821" y1="78.5" x2="1812" y2="78.5" stroke="#000" stroke-width="2"/><line x1="1210.4" y1="547.3" x2="1215" y2="547.3" stroke="#000" stroke-width="2"/><line x1="1821" y1="547.3" x2="1816.4" y2="547.3" stroke="#000" stroke-width="2"/><line x1="1210.4" y1="537.3" x2="1215" y2="537.3" stroke="#000" stroke-width="2"/><line x1="1821" y1="537.3" x2="1816.4" y2="537.3" stroke="#000" stroke-width="2"/><line x1="1210.4" y1="527.3" x2="1215" y2="527.3" stroke="#000" stroke-width="2"/><line x1="1821" y1="527.3" x2="1816.4" y2="527.3" stroke="#000" stroke-width="2"/><line x1="1210.4" y1="517.3" x2="1215" y2="517.3" stroke="#000" stroke-width="2"/><line x1="1821" y1="517.3" x2="1816.4" y2="517.3" stroke="#000" stroke-width="2"/><line x1="1210.4" y1="507.3" x2="1215" y2="507.3" stroke="#000" stroke-width="2"/><line x1="1821" y1="507.3" x2="1816.4" y2="507.3" stroke="#000" stroke-width="2"/><line x1="1210.4" y1="497.3" x2="1215" y2="497.3" stroke="#000" stroke-width="2"/><line x1="1821" y1="497.3" x2="1816.4" y2="497.3" stroke="#000" stroke-width="2"/><line x1="1210.4" y1="487.3" x2="1215" y2="487.3" stroke="#000" stroke-width="2"/><line x1="1821" y1="487.3" x2="1816.4" y2="487.3" stroke="#000" stroke-width="2"/><line x1="1210.4" y1="477.3" x2="1215" y2="477.3" stroke="#000" stroke-width="2"/><line x1="1821" y1="477.3" x2="1816.4" y2="477.3" stroke="#000" stroke-width="2"/><line x1="1210.4" y1="467.3" x2="1215" y2="467.3" stroke="#000" stroke-width="2"/><line x1="1821" y1="467.3" x2="1816.4" y2="467.3" stroke="#000" stroke-width="2"/><line x1="1210.4" y1="457.3" x2="1215" y2="457.3" stroke="#000" stroke-width="2"/><line x1="1821" y1="457.3" x2="1816.4" y2="457.3" stroke="#000" stroke-width="2"/><line x1="1210.4" y1="447.3" x2="1215" y2="447.3" stroke="#000" stroke-width="2"/><line x1="1821" y1="447.3" x2="1816.4" y2="447.3" stroke="#000" stroke-width="2"/><line x1="1210.4" y1="437.3" x2="1215" y2="437.3" stroke="#000" stroke-width="2"/><line x1="1821" y1="437.3" x2="1816.4" y2="437.3" stroke="#000" stroke-width="2"/><line x1="1210.4" y1="427.3" x2="1215" y2="427.3" stroke="#000" stroke-width="2"/><line x1="1821" y1="427.3" x2="1816.4" y2="427.3" stroke="#000" stroke-width="2"/><line x1="1210.4" y1="417.3" x2="1215" y2="417.3" stroke="#000" stroke-width="2"/><line x1="1821" y1="417.3" x2="1816.4" y2="417.3" stroke="#000" stroke-width="2"/><line x1="1210.4" y1="407.3" x2="1215" y2="407.3" stroke="#000" stroke-width="2"/><line x1="1821" y1="407.3" x2="1816.4" y2="407.3" stroke="#000" stroke-width="2"/><line x1="1210.4" y1="397.3" x2="1215" y2="397.3" stroke="#000" stroke-width="2"/><line x1="1821" y1="397.3" x2="1816.4" y2="397.3" stroke="#000" stroke-width="2"/><line x1="1210.4" y1="387.3" x2="1215" y2="387.3" stroke="#000" stroke-width="2"/><line x1="1821" y1="387.3" x2="1816.4" y2="387.3" stroke="#000" stroke-width="2"/><line x1="1210.4" y1="377.3" x2="1215" y2="377.3" stroke="#000" stroke-width="2"/><line x1="1821" y1="377.3" x2="1816.4" y2="377.3" stroke="#000" stroke-width="2"/><line x1="1210.4" y1="367.3" x2="1215" y2="367.3" stroke="#000" stroke-width="2"/><line x1="1821" y1="367.3" x2="1816.4" y2="367.3" stroke="#000" stroke-width="2"/><line x1="1210.4" y1="357.3" x2="1215" y2="357.3" stroke="#000" stroke-width="2"/><line x1="1821" y1="357.3" x2="1816.4" y2="357.3" stroke="#000" stroke-width="2"/><line x1="1210.4" y1="347.3" x2="1215" y2="347.3" stroke="#000" stroke-width="2"/><line x1="1821" y1="347.3" x2="1816.4" y2="347.3" stroke="#000" stroke-width="2"/><line x1="1210.4" y1="537.3" x2="1219.4" y2="537.3" stroke="#000" stroke-width="2"/><line x1="1821" y1="537.3" x2="1812" y2="537.3" stroke="#000" stroke-width="2"/><line x1="1210.4" y1="497.3" x2="1219.4" y2="497.3" stroke="#000" stroke-width="2"/><line x1="1821" y1="497.3" x2="1812" y2="497.3" stroke="#000" stroke-width="2"/><line x1="1210.4" y1="457.3" x2="1219.4" y2="457.3" stroke="#000" stroke-width="2"/><line x1="1821" y1="457.3" x2="1812" y2="457.3" stroke="#000" stroke-width="2"/><line x1="1210.4" y1="417.3" x2="1219.4" y2="417.3" stroke="#000" stroke-width="2"/><line x1="1821" y1="417.3" x2="1812" y2="417.3" stroke="#000" stroke-width="2"/><line x1="1210.4" y1="377.3" x2="1219.4" y2="377.3" stroke="#000" stroke-width="2"/><line x1="1821" y1="377.3" x2="1812" y2="377.3" stroke="#000" stroke-width="2"/><line x1="1236.07" y1="1027.2" x2="1236.07" y2="1024" stroke="#000" stroke-width="2"/><line x1="1236.07" y1="687" x2="1236.07" y2="691" stroke="#000" stroke-width="2"/><line x1="1261.5" y1="1027.2" x2="1261.5" y2="1024" stroke="#000" stroke-width="2"/><line x1="1261.5" y1="687" x2="1261.5" y2="691" stroke="#000" stroke-width="2"/><line x1="1286.93" y1="1027.2" x2="1286.93" y2="1024" stroke="#000" stroke-width="2"/><line x1="1286.93" y1="687" x2="1286.93" y2="691" stroke="#000" stroke-width="2"/><line x1="1312.36" y1="1027.2" x2="1312.36" y2="1024" stroke="#000" stroke-width="2"/><line x1="1312.36" y1="687" x2="1312.36" y2="691" stroke="#000" stroke-width="2"/><line x1="1337.79" y1="1027.2" x2="1337.79" y2="1024" stroke="#000" stroke-width="2"/><line x1="1337.79" y1="687" x2="1337.79" y2="691" stroke="#000" stroke-width="2"/><line x1="1363.22" y1="1027.2" x2="1363.22" y2="1024" stroke="#000" stroke-width="2"/><line x1="1363.22" y1="687" x2="1363.22" y2="691" stroke="#000" stroke-width="2"/><line x1="1388.65" y1="1027.2" x2="1388.65" y2="1024" stroke="#000" stroke-width="2"/><line x1="1388.65" y1="687" x2="1388.65" y2="691" stroke="#000" stroke-width="2"/><line x1="1414.08" y1="1027.2" x2="1414.08" y2="1024" stroke="#000" stroke-width="2"/><line x1="1414.08" y1="687" x2="1414.08" y2="691" stroke="#000" stroke-width="2"/><line x1="1439.51" y1="1027.2" x2="1439.51" y2="1024" stroke="#000" stroke-width="2"/><line x1="1439.51" y1="687" x2="1439.51" y2="691" stroke="#000" stroke-width="2"/><line x1="1464.94" y1="1027.2" x2="1464.94" y2="1024" stroke="#000" stroke-width="2"/><line x1="1464.94" y1="687" x2="1464.94" y2="691" stroke="#000" stroke-width="2"/><line x1="1490.37" y1="1027.2" x2="1490.37" y2="1024" stroke="#000" stroke-width="2"/><line x1="1490.37" y1="687" x2="1490.37" y2="691" stroke="#000" stroke-width="2"/><line x1="1515.8" y1="1027.2" x2="1515.8" y2="1024" stroke="#000" stroke-width="2"/><line x1="1515.8" y1="687" x2="1515.8" y2="691" stroke="#000" stroke-width="2"/><line x1="1541.23" y1="1027.2" x2="1541.23" y2="1024" stroke="#000" stroke-width="2"/><line x1="1541.23" y1="687" x2="1541.23" y2="691" stroke="#000" stroke-width="2"/><line x1="1566.66" y1="1027.2" x2="1566.66" y2="1024" stroke="#000" stroke-width="2"/><line x1="1566.66" y1="687" x2="1566.66" y2="691" stroke="#000" stroke-width="2"/><line x1="1592.09" y1="1027.2" x2="1592.09" y2="1024" stroke="#000" stroke-width="2"/><line x1="1592.09" y1="687" x2="1592.09" y2="691" stroke="#000" stroke-width="2"/><line x1="1617.52" y1="1027.2" x2="1617.52" y2="1024" stroke="#000" stroke-width="2"/><line x1="1617.52" y1="687" x2="1617.52" y2="691" stroke="#000" stroke-width="2"/><line x1="1642.95" y1="1027.2" x2="1642.95" y2="1024" stroke="#000" stroke-width="2"/><line x1="1642.95" y1="687" x2="1642.95" y2="691" stroke="#000" stroke-width="2"/><line x1="1668.38" y1="1027.2" x2="1668.38" y2="1024" stroke="#000" stroke-width="2"/><line x1="1668.38" y1="687" x2="1668.38" y2="691" stroke="#000" stroke-width="2"/><line x1="1693.81" y1="1027.2" x2="1693.81" y2="1024" stroke="#000" stroke-width="2"/><line x1="1693.81" y1="687" x2="1693.81" y2="691" stroke="#000" stroke-width="2"/><line x1="1719.24" y1="1027.2" x2="1719.24" y2="1024" stroke="#000" stroke-width="2"/><line x1="1719.24" y1="687" x2="1719.24" y2="691" stroke="#000" stroke-width="2"/><line x1="1744.67" y1="1027.2" x2="1744.67" y2="1024" stroke="#000" stroke-width="2"/><line x1="1744.67" y1="687" x2="1744.67" y2="691" stroke="#000" stroke-width="2"/><line x1="1770.1" y1="1027.2" x2="1770.1" y2="1024" stroke="#000" stroke-width="2"/><line x1="1770.1" y1="687" x2="1770.1" y2="691" stroke="#000" stroke-width="2"/><line x1="1795.53" y1="1027.2" x2="1795.53" y2="1024" stroke="#000" stroke-width="2"/><line x1="1795.53" y1="687" x2="1795.53" y2="691" stroke="#000" stroke-width="2"/><line x1="1261.5" y1="1027.2" x2="1261.5" y2="1021" stroke="#000" stroke-width="2"/><line x1="1261.5" y1="687" x2="1261.5" y2="694" stroke="#000" stroke-width="2"/><line x1="1363.22" y1="1027.2" x2="1363.22" y2="1021" stroke="#000" stroke-width="2"/><line x1="1363.22" y1="687" x2="1363.22" y2="694" stroke="#000" stroke-width="2"/><line x1="1464.94" y1="1027.2" x2="1464.94" y2="1021" stroke="#000" stroke-width="2"/><line x1="1464.94" y1="687" x2="1464.94" y2="694" stroke="#000" stroke-width="2"/><line x1="1566.66" y1="1027.2" x2="1566.66" y2="1021" stroke="#000" stroke-width="2"/><line x1="1566.66" y1="687" x2="1566.66" y2="694" stroke="#000" stroke-width="2"/><line x1="1668.38" y1="1027.2" x2="1668.38" y2="1021" stroke="#000" stroke-width="2"/><line x1="1668.38" y1="687" x2="1668.38" y2="694" stroke="#000" stroke-width="2"/><line x1="1770.1" y1="1027.2" x2="1770.1" y2="1021" stroke="#000" stroke-width="2"/><line x1="1770.1" y1="687" x2="1770.1" y2="694" stroke="#000" stroke-width="2"/><line x1="1236.07" y1="1243.2" x2="1236.07" y2="1241.2" stroke="#000" stroke-width="2"/><line x1="1236.07" y1="1027.2" x2="1236.07" y2="1029.4" stroke="#000" stroke-width="2"/><line x1="1261.5" y1="1243.2" x2="1261.5" y2="1241.2" stroke="#000" stroke-width="2"/><line x1="1261.5" y1="1027.2" x2="1261.5" y2="1029.4" stroke="#000" stroke-width="2"/><line x1="1286.93" y1="1243.2" x2="1286.93" y2="1241.2" stroke="#000" stroke-width="2"/><line x1="1286.93" y1="1027.2" x2="1286.93" y2="1029.4" stroke="#000" stroke-width="2"/><line x1="1312.36" y1="1243.2" x2="1312.36" y2="1241.2" stroke="#000" stroke-width="2"/><line x1="1312.36" y1="1027.2" x2="1312.36" y2="1029.4" stroke="#000" stroke-width="2"/><line x1="1337.79" y1="1243.2" x2="1337.79" y2="1241.2" stroke="#000" stroke-width="2"/><line x1="1337.79" y1="1027.2" x2="1337.79" y2="1029.4" stroke="#000" stroke-width="2"/><line x1="1363.22" y1="1243.2" x2="1363.22" y2="1241.2" stroke="#000" stroke-width="2"/><line x1="1363.22" y1="1027.2" x2="1363.22" y2="1029.4" stroke="#000" stroke-width="2"/><line x1="1388.65" y1="1243.2" x2="1388.65" y2="1241.2" stroke="#000" stroke-width="2"/><line x1="1388.65" y1="1027.2" x2="1388.65" y2="1029.4" stroke="#000" stroke-width="2"/><line x1="1414.08" y1="1243.2" x2="1414.08" y2="1241.2" stroke="#000" stroke-width="2"/><line x1="1414.08" y1="1027.2" x2="1414.08" y2="1029.4" stroke="#000" stroke-width="2"/><line x1="1439.51" y1="1243.2" x2="1439.51" y2="1241.2" stroke="#000" stroke-width="2"/><line x1="1439.51" y1="1027.2" x2="1439.51" y2="1029.4" stroke="#000" stroke-width="2"/><line x1="1464.94" y1="1243.2" x2="1464.94" y2="1241.2" stroke="#000" stroke-width="2"/><line x1="1464.94" y1="1027.2" x2="1464.94" y2="1029.4" stroke="#000" stroke-width="2"/><line x1="1490.37" y1="1243.2" x2="1490.37" y2="1241.2" stroke="#000" stroke-width="2"/><line x1="1490.37" y1="1027.2" x2="1490.37" y2="1029.4" stroke="#000" stroke-width="2"/><line x1="1515.8" y1="1243.2" x2="1515.8" y2="1241.2" stroke="#000" stroke-width="2"/><line x1="1515.8" y1="1027.2" x2="1515.8" y2="1029.4" stroke="#000" stroke-width="2"/><line x1="1541.23" y1="1243.2" x2="1541.23" y2="1241.2" stroke="#000" stroke-width="2"/><line x1="1541.23" y1="1027.2" x2="1541.23" y2="1029.4" stroke="#000" stroke-width="2"/><line x1="1566.66" y1="1243.2" x2="1566.66" y2="1241.2" stroke="#000" stroke-width="2"/><line x1="1566.66" y1="1027.2" x2="1566.66" y2="1029.4" stroke="#000" stroke-width="2"/><line x1="1592.09" y1="1243.2" x2="1592.09" y2="1241.2" stroke="#000" stroke-width="2"/><line x1="1592.09" y1="1027.2" x2="1592.09" y2="1029.4" stroke="#000" stroke-width="2"/><line x1="1617.52" y1="1243.2" x2="1617.52" y2="1241.2" stroke="#000" stroke-width="2"/><line x1="1617.52" y1="1027.2" x2="1617.52" y2="1029.4" stroke="#000" stroke-width="2"/><line x1="1642.95" y1="1243.2" x2="1642.95" y2="1241.2" stroke="#000" stroke-width="2"/><line x1="1642.95" y1="1027.2" x2="1642.95" y2="1029.4" stroke="#000" stroke-width="2"/><line x1="1668.38" y1="1243.2" x2="1668.38" y2="1241.2" stroke="#000" stroke-width="2"/><line x1="1668.38" y1="1027.2" x2="1668.38" y2="1029.4" stroke="#000" stroke-width="2"/><line x1="1693.81" y1="1243.2" x2="1693.81" y2="1241.2" stroke="#000" stroke-width="2"/><line x1="1693.81" y1="1027.2" x2="1693.81" y2="1029.4" stroke="#000" stroke-width="2"/><line x1="1719.24" y1="1243.2" x2="1719.24" y2="1241.2" stroke="#000" stroke-width="2"/><line x1="1719.24" y1="1027.2" x2="1719.24" y2="1029.4" stroke="#000" stroke-width="2"/><line x1="1744.67" y1="1243.2" x2="1744.67" y2="1241.2" stroke="#000" stroke-width="2"/><line x1="1744.67" y1="1027.2" x2="1744.67" y2="1029.4" stroke="#000" stroke-width="2"/><line x1="1770.1" y1="1243.2" x2="1770.1" y2="1241.2" stroke="#000" stroke-width="2"/><line x1="1770.1" y1="1027.2" x2="1770.1" y2="1029.4" stroke="#000" stroke-width="2"/><line x1="1795.53" y1="1243.2" x2="1795.53" y2="1241.2" stroke="#000" stroke-width="2"/><line x1="1795.53" y1="1027.2" x2="1795.53" y2="1029.4" stroke="#000" stroke-width="2"/><line x1="1261.5" y1="1243.2" x2="1261.5" y2="1238.7" stroke="#000" stroke-width="2"/><line x1="1261.5" y1="1027.2" x2="1261.5" y2="1031.9" stroke="#000" stroke-width="2"/><line x1="1363.22" y1="1243.2" x2="1363.22" y2="1238.7" stroke="#000" stroke-width="2"/><line x1="1363.22" y1="1027.2" x2="1363.22" y2="1031.9" stroke="#000" stroke-width="2"/><line x1="1464.94" y1="1243.2" x2="1464.94" y2="1238.7" stroke="#000" stroke-width="2"/><line x1="1464.94" y1="1027.2" x2="1464.94" y2="1031.9" stroke="#000" stroke-width="2"/><line x1="1566.66" y1="1243.2" x2="1566.66" y2="1238.7" stroke="#000" stroke-width="2"/><line x1="1566.66" y1="1027.2" x2="1566.66" y2="1031.9" stroke="#000" stroke-width="2"/><line x1="1668.38" y1="1243.2" x2="1668.38" y2="1238.7" stroke="#000" stroke-width="2"/><line x1="1668.38" y1="1027.2" x2="1668.38" y2="1031.9" stroke="#000" stroke-width="2"/><line x1="1770.1" y1="1243.2" x2="1770.1" y2="1238.7" stroke="#000" stroke-width="2"/><line x1="1770.1" y1="1027.2" x2="1770.1" y2="1031.9" stroke="#000" stroke-width="2"/><line x1="1210.4" y1="1011.76" x2="1214.9" y2="1011.76" stroke="#000" stroke-width="2"/><line x1="1821" y1="1011.76" x2="1816.5" y2="1011.76" stroke="#000" stroke-width="2"/><line x1="1210.4" y1="996.3" x2="1214.9" y2="996.3" stroke="#000" stroke-width="2"/><line x1="1821" y1="996.3" x2="1816.5" y2="996.3" stroke="#000" stroke-width="2"/><line x1="1210.4" y1="980.84" x2="1214.9" y2="980.84" stroke="#000" stroke-width="2"/><line x1="1821" y1="980.84" x2="1816.5" y2="980.84" stroke="#000" stroke-width="2"/><line x1="1210.4" y1="965.38" x2="1214.9" y2="965.38" stroke="#000" stroke-width="2"/><line x1="1821" y1="965.38" x2="1816.5" y2="965.38" stroke="#000" stroke-width="2"/><line x1="1210.4" y1="949.92" x2="1214.9" y2="949.92" stroke="#000" stroke-width="2"/><line x1="1821" y1="949.92" x2="1816.5" y2="949.92" stroke="#000" stroke-width="2"/><line x1="1210.4" y1="934.46" x2="1214.9" y2="934.46" stroke="#000" stroke-width="2"/><line x1="1821" y1="934.46" x2="1816.5" y2="934.46" stroke="#000" stroke-width="2"/><line x1="1210.4" y1="919" x2="1214.9" y2="919" stroke="#000" stroke-width="2"/><line x1="1821" y1="919" x2="1816.5" y2="919" stroke="#000" stroke-width="2"/><line x1="1210.4" y1="903.54" x2="1214.9" y2="903.54" stroke="#000" stroke-width="2"/><line x1="1821" y1="903.54" x2="1816.5" y2="903.54" stroke="#000" stroke-width="2"/><line x1="1210.4" y1="888.08" x2="1214.9" y2="888.08" stroke="#000" stroke-width="2"/><line x1="1821" y1="888.08" x2="1816.5" y2="888.08" stroke="#000" stroke-width="2"/><line x1="1210.4" y1="872.62" x2="1214.9" y2="872.62" stroke="#000" stroke-width="2"/><line x1="1821" y1="872.62" x2="1816.5" y2="872.62" stroke="#000" stroke-width="2"/><line x1="1210.4" y1="857.16" x2="1214.9" y2="857.16" stroke="#000" stroke-width="2"/><line x1="1821" y1="857.16" x2="1816.5" y2="857.16" stroke="#000" stroke-width="2"/><line x1="1210.4" y1="841.7" x2="1214.9" y2="841.7" stroke="#000" stroke-width="2"/><line x1="1821" y1="841.7" x2="1816.5" y2="841.7" stroke="#000" stroke-width="2"/><line x1="1210.4" y1="826.24" x2="1214.9" y2="826.24" stroke="#000" stroke-width="2"/><line x1="1821" y1="826.24" x2="1816.5" y2="826.24" stroke="#000" stroke-width="2"/><line x1="1210.4" y1="810.78" x2="1214.9" y2="810.78" stroke="#000" stroke-width="2"/><line x1="1821" y1="810.78" x2="1816.5" y2="810.78" stroke="#000" stroke-width="2"/><line x1="1210.4" y1="795.32" x2="1214.9" y2="795.32" stroke="#000" stroke-width="2"/><line x1="1821" y1="795.32" x2="1816.5" y2="795.32" stroke="#000" stroke-width="2"/><line x1="1210.4" y1="779.86" x2="1214.9" y2="779.86" stroke="#000" stroke-width="2"/><line x1="1821" y1="779.86" x2="1816.5" y2="779.86" stroke="#000" stroke-width="2"/><line x1="1210.4" y1="764.4" x2="1214.9" y2="764.4" stroke="#000" stroke-width="2"/><line x1="1821" y1="764.4" x2="1816.5" y2="764.4" stroke="#000" stroke-width="2"/><line x1="1210.4" y1="748.94" x2="1214.9" y2="748.94" stroke="#000" stroke-width="2"/><line x1="1821" y1="748.94" x2="1816.5" y2="748.94" stroke="#000" stroke-width="2"/><line x1="1210.4" y1="733.48" x2="1214.9" y2="733.48" stroke="#000" stroke-width="2"/><line x1="1821" y1="733.48" x2="1816.5" y2="733.48" stroke="#000" stroke-width="2"/><line x1="1210.4" y1="718.02" x2="1214.9" y2="718.02" stroke="#000" stroke-width="2"/><line x1="1821" y1="718.02" x2="1816.5" y2="718.02" stroke="#000" stroke-width="2"/><line x1="1210.4" y1="702.56" x2="1214.9" y2="702.56" stroke="#000" stroke-width="2"/><line x1="1821" y1="702.56" x2="1816.5" y2="702.56" stroke="#000" stroke-width="2"/><line x1="1210.4" y1="996.3" x2="1219.4" y2="996.3" stroke="#000" stroke-width="2"/><line x1="1821" y1="996.3" x2="1812" y2="996.3" stroke="#000" stroke-width="2"/><line x1="1210.4" y1="919" x2="1219.4" y2="919" stroke="#000" stroke-width="2"/><line x1="1821" y1="919" x2="1812" y2="919" stroke="#000" stroke-width="2"/><line x1="1210.4" y1="841.7" x2="1219.4" y2="841.7" stroke="#000" stroke-width="2"/><line x1="1821" y1="841.7" x2="1812" y2="841.7" stroke="#000" stroke-width="2"/><line x1="1210.4" y1="764.4" x2="1219.4" y2="764.4" stroke="#000" stroke-width="2"/><line x1="1821" y1="764.4" x2="1812" y2="764.4" stroke="#000" stroke-width="2"/><line x1="1210.4" y1="1231.7" x2="1215" y2="1231.7" stroke="#000" stroke-width="2"/><line x1="1821" y1="1231.7" x2="1816.4" y2="1231.7" stroke="#000" stroke-width="2"/><line x1="1210.4" y1="1219.7" x2="1215" y2="1219.7" stroke="#000" stroke-width="2"/><line x1="1821" y1="1219.7" x2="1816.4" y2="1219.7" stroke="#000" stroke-width="2"/><line x1="1210.4" y1="1207.7" x2="1215" y2="1207.7" stroke="#000" stroke-width="2"/><line x1="1821" y1="1207.7" x2="1816.4" y2="1207.7" stroke="#000" stroke-width="2"/><line x1="1210.4" y1="1195.7" x2="1215" y2="1195.7" stroke="#000" stroke-width="2"/><line x1="1821" y1="1195.7" x2="1816.4" y2="1195.7" stroke="#000" stroke-width="2"/><line x1="1210.4" y1="1183.7" x2="1215" y2="1183.7" stroke="#000" stroke-width="2"/><line x1="1821" y1="1183.7" x2="1816.4" y2="1183.7" stroke="#000" stroke-width="2"/><line x1="1210.4" y1="1171.7" x2="1215" y2="1171.7" stroke="#000" stroke-width="2"/><line x1="1821" y1="1171.7" x2="1816.4" y2="1171.7" stroke="#000" stroke-width="2"/><line x1="1210.4" y1="1159.7" x2="1215" y2="1159.7" stroke="#000" stroke-width="2"/><line x1="1821" y1="1159.7" x2="1816.4" y2="1159.7" stroke="#000" stroke-width="2"/><line x1="1210.4" y1="1147.7" x2="1215" y2="1147.7" stroke="#000" stroke-width="2"/><line x1="1821" y1="1147.7" x2="1816.4" y2="1147.7" stroke="#000" stroke-width="2"/><line x1="1210.4" y1="1135.7" x2="1215" y2="1135.7" stroke="#000" stroke-width="2"/><line x1="1821" y1="1135.7" x2="1816.4" y2="1135.7" stroke="#000" stroke-width="2"/><line x1="1210.4" y1="1123.7" x2="1215" y2="1123.7" stroke="#000" stroke-width="2"/><line x1="1821" y1="1123.7" x2="1816.4" y2="1123.7" stroke="#000" stroke-width="2"/><line x1="1210.4" y1="1111.7" x2="1215" y2="1111.7" stroke="#000" stroke-width="2"/><line x1="1821" y1="1111.7" x2="1816.4" y2="1111.7" stroke="#000" stroke-width="2"/><line x1="1210.4" y1="1099.7" x2="1215" y2="1099.7" stroke="#000" stroke-width="2"/><line x1="1821" y1="1099.7" x2="1816.4" y2="1099.7" stroke="#000" stroke-width="2"/><line x1="1210.4" y1="1087.7" x2="1215" y2="1087.7" stroke="#000" stroke-width="2"/><line x1="1821" y1="1087.7" x2="1816.4" y2="1087.7" stroke="#000" stroke-width="2"/><line x1="1210.4" y1="1075.7" x2="1215" y2="1075.7" stroke="#000" stroke-width="2"/><line x1="1821" y1="1075.7" x2="1816.4" y2="1075.7" stroke="#000" stroke-width="2"/><line x1="1210.4" y1="1063.7" x2="1215" y2="1063.7" stroke="#000" stroke-width="2"/><line x1="1821" y1="1063.7" x2="1816.4" y2="1063.7" stroke="#000" stroke-width="2"/><line x1="1210.4" y1="1051.7" x2="1215" y2="1051.7" stroke="#000" stroke-width="2"/><line x1="1821" y1="1051.7" x2="1816.4" y2="1051.7" stroke="#000" stroke-width="2"/><line x1="1210.4" y1="1039.7" x2="1215" y2="1039.7" stroke="#000" stroke-width="2"/><line x1="1821" y1="1039.7" x2="1816.4" y2="1039.7" stroke="#000" stroke-width="2"/><line x1="1210.4" y1="1027.7" x2="1215" y2="1027.7" stroke="#000" stroke-width="2"/><line x1="1821" y1="1027.7" x2="1816.4" y2="1027.7" stroke="#000" stroke-width="2"/><line x1="1210.4" y1="1231.7" x2="1219.4" y2="1231.7" stroke="#000" stroke-width="2"/><line x1="1821" y1="1231.7" x2="1812" y2="1231.7" stroke="#000" stroke-width="2"/><line x1="1210.4" y1="1171.7" x2="1219.4" y2="1171.7" stroke="#000" stroke-width="2"/><line x1="1821" y1="1171.7" x2="1812" y2="1171.7" stroke="#000" stroke-width="2"/><line x1="1210.4" y1="1111.7" x2="1219.4" y2="1111.7" stroke="#000" stroke-width="2"/><line x1="1821" y1="1111.7" x2="1812" y2="1111.7" stroke="#000" stroke-width="2"/><line x1="1210.4" y1="1051.7" x2="1219.4" y2="1051.7" stroke="#000" stroke-width="2"/><line x1="1821" y1="1051.7" x2="1812" y2="1051.7" stroke="#000" stroke-width="2"/><text x="48.13 67.3 76.93" y="499.6" font-size="30" stroke="#000" stroke-width="0.55">0.8</text><text x="48.4 67.27 76.91" y="411.14" font-size="30" stroke="#000" stroke-width="0.55">1.0</text><text x="48.9 67.77 77.86" y="322.68" font-size="30" stroke="#000" stroke-width="0.55">1.2</text><text x="47.63 66.5 76.42" y="234.22" font-size="30" stroke="#000" stroke-width="0.55">1.4</text><text x="48.36 67.23 76.8" y="145.76" font-size="30" stroke="#000" stroke-width="0.55">1.6</text><text x="48.43 67.3 76.93" y="57.3" font-size="30" stroke="#000" stroke-width="0.55">1.8</text><text x="85.96 105.16 123.91 143.11" y="601.5" font-size="30" stroke="#000" stroke-width="0.55">2200</text><text x="217.14 236.18 255.09 274.29" y="601.5" font-size="30" stroke="#000" stroke-width="0.55">2400</text><text x="348.32 367.01 386.27 405.47" y="601.5" font-size="30" stroke="#000" stroke-width="0.55">2600</text><text x="479.5 498.25 517.45 536.65" y="601.5" font-size="30" stroke="#000" stroke-width="0.55">2800</text><text x="610.31 629.55 648.75 667.95" y="601.5" font-size="30" stroke="#000" stroke-width="0.55">3000</text><text x="741.49 761.18 779.93 799.13" y="601.5" font-size="30" stroke="#000" stroke-width="0.55">3200</text><text x="872.67 892.19 911.11 930.31" y="601.5" font-size="30" stroke="#000" stroke-width="0.55">3400</text><text x="1003.85 1023.02 1042.29 1061.49" y="601.5" font-size="30" stroke="#000" stroke-width="0.55">3600</text><text x="47.57 66.73 76.3" y="1243.7" font-size="30" stroke="#000" stroke-width="0.55">0.6</text><text x="47.96 67.12 76.58" y="1109.5" font-size="30" stroke="#000" stroke-width="0.55">0.7</text><text x="47.63 66.8 76.43" y="963.1" font-size="30" stroke="#000" stroke-width="0.55">0.8</text><text x="47.58 66.74 76.43" y="816.7" font-size="30" stroke="#000" stroke-width="0.55">0.9</text><text x="142.19 161.36 180.63 199.83" y="1287.5" font-size="30" stroke="#000" stroke-width="0.55">3600</text><text x="324.59 343.76 362.9 382.23" y="1287.5" font-size="30" stroke="#000" stroke-width="0.55">3650</text><text x="506.99 526.05 545.43 564.63" y="1287.5" font-size="30" stroke="#000" stroke-width="0.55">3700</text><text x="689.39 708.45 727.7 747.03" y="1287.5" font-size="30" stroke="#000" stroke-width="0.55">3750</text><text x="871.79 891.03 910.23 929.43" y="1287.5" font-size="30" stroke="#000" stroke-width="0.55">3800</text><text x="1145.6 1161.91 1170.03 1185.9" y="320.8" font-size="25.8" stroke="#000" stroke-width="0.55">0.00</text><text x="1145.6 1161.91 1170.03 1185.9" y="1006.7" font-size="25.8" stroke="#000" stroke-width="0.55">0.00</text><text x="1145.98 1162.29 1170.42 1186.18" y="243.5" font-size="25.8" stroke="#000" stroke-width="0.55">0.05</text><text x="1145.98 1162.29 1170.42 1186.18" y="929.4" font-size="25.8" stroke="#000" stroke-width="0.55">0.05</text><text x="1145.6 1161.91 1170.28 1185.9" y="166.2" font-size="25.8" stroke="#000" stroke-width="0.55">0.10</text><text x="1145.6 1161.91 1170.28 1185.9" y="852.1" font-size="25.8" stroke="#000" stroke-width="0.55">0.10</text><text x="1145.98 1162.29 1170.67 1186.18" y="88.9" font-size="25.8" stroke="#000" stroke-width="0.55">0.15</text><text x="1145.98 1162.29 1170.67 1186.18" y="774.8" font-size="25.8" stroke="#000" stroke-width="0.55">0.15</text><text x="1145.6 1161.91 1170.42 1185.9" y="18.1" font-size="25.8" stroke="#000" stroke-width="0.55">0.20</text><text x="1145.6 1161.91 1170.42 1185.9" y="704.1" font-size="25.8" stroke="#000" stroke-width="0.55">0.20</text><text x="1145.6 1161.91 1170.03 1185.9" y="547.7" font-size="25.8" stroke="#000" stroke-width="0.55">0.00</text><text x="1146.03 1162.34 1170.47 1186.72" y="507.7" font-size="25.8" stroke="#000" stroke-width="0.55">0.02</text><text x="1144.93 1161.25 1169.37 1185.48" y="467.7" font-size="25.8" stroke="#000" stroke-width="0.55">0.04</text><text x="1145.56 1161.88 1170 1185.81" y="427.7" font-size="25.8" stroke="#000" stroke-width="0.55">0.06</text><text x="1145.62 1161.93 1170.06 1185.92" y="387.7" font-size="25.8" stroke="#000" stroke-width="0.55">0.08</text><text x="1145.6 1161.91 1170.03 1185.9" y="1242.1" font-size="25.8" stroke="#000" stroke-width="0.55">0.00</text><text x="1145.98 1162.29 1170.42 1186.18" y="1182.1" font-size="25.8" stroke="#000" stroke-width="0.55">0.05</text><text x="1145.6 1161.91 1170.28 1185.9" y="1122.1" font-size="25.8" stroke="#000" stroke-width="0.55">0.10</text><text x="1145.98 1162.29 1170.67 1186.18" y="1062.1" font-size="25.8" stroke="#000" stroke-width="0.55">0.15</text><text x="1200.55 1216.83 1232.21 1248.18" y="594.3" font-size="25.8" stroke="#000" stroke-width="0.55">3250</text><text x="1318.6 1334.47 1350.37 1366.23" y="594.3" font-size="25.8" stroke="#000" stroke-width="0.55">3300</text><text x="1436.65 1452.52 1468.31 1484.28" y="594.3" font-size="25.8" stroke="#000" stroke-width="0.55">3350</text><text x="1554.7 1570.84 1586.47 1602.33" y="594.3" font-size="25.8" stroke="#000" stroke-width="0.55">3400</text><text x="1672.75 1688.89 1704.41 1720.38" y="594.3" font-size="25.8" stroke="#000" stroke-width="0.55">3450</text><text x="1228.95 1244.79 1260.72 1276.58" y="1280.3" font-size="25.8" stroke="#000" stroke-width="0.55">3680</text><text x="1330.67 1346.41 1362.44 1378.3" y="1280.3" font-size="25.8" stroke="#000" stroke-width="0.55">3700</text><text x="1432.39 1448.13 1464.54 1480.02" y="1280.3" font-size="25.8" stroke="#000" stroke-width="0.55">3720</text><text x="1534.11 1549.85 1566.12 1581.74" y="1280.3" font-size="25.8" stroke="#000" stroke-width="0.55">3740</text><text x="1635.83 1651.57 1667.54 1683.46" y="1280.3" font-size="25.8" stroke="#000" stroke-width="0.55">3760</text><text x="1737.55 1753.29 1769.32 1785.18" y="1280.3" font-size="25.8" stroke="#000" stroke-width="0.55">3780</text><text transform="scale(0.92135 1)" x="386.32 405.13 423.58 442.87 461.22 480.05 517.28 536.98 555.8 574.77 612.25 630.6 649.89 668.72 686.32 706.36 725.18 744.24 762.98 781.59 818.2 838.1 858.02" y="639" font-size="32" stroke="#000" stroke-width="0.75" font-family="'Liberation Mono', monospace">QuasarRestWavelength[Å]</text><text transform="scale(0.92135 1)" x="386.32 405.13 423.58 442.87 461.22 480.05 517.28 536.98 555.8 574.77 612.25 630.6 649.89 668.72 686.32 706.36 725.18 744.24 762.98 781.59 818.2 838.1 858.02" y="1325" font-size="32" stroke="#000" stroke-width="0.75" font-family="'Liberation Mono', monospace">QuasarRestWavelength[Å]</text><text transform="scale(0.91304 1)" x="1454.45 1470.32 1485.89 1502.17 1517.65 1533.53 1564.95 1581.57 1597.45 1613.46 1645.08 1660.57 1676.84 1692.73 1707.58 1724.49 1740.36 1756.45 1772.26 1787.97 1818.85 1835.65 1852.45" y="625.9" font-size="27" stroke="#000" stroke-width="0.75" font-family="'Liberation Mono', monospace">QuasarRestWavelength[Å]</text><text transform="scale(0.91304 1)" x="1454.45 1470.32 1485.89 1502.17 1517.65 1533.53 1564.95 1581.57 1597.45 1613.46 1645.08 1660.57 1676.84 1692.73 1707.58 1724.49 1740.36 1756.45 1772.26 1787.97 1818.85 1835.65 1852.45" y="1311.9" font-size="27" stroke="#000" stroke-width="0.75" font-family="'Liberation Mono', monospace">QuasarRestWavelength[Å]</text><text transform="translate(22.1 480.7) rotate(-90) scale(0.97478 1)" x="-2.45 15.59 33.18 51.7 69.25 86.57 105.48 123.92 141.87 160.21 195.59 212.84 231.97 250.1 285.73 304.22 322.25 340.3 358.03 376.53 394.42" y="0" font-size="31" stroke="#000" stroke-width="0.75" font-family="'Liberation Mono', monospace">NormalizedFluxDensity</text><text transform="translate(22.1 1166.7) rotate(-90) scale(0.97478 1)" x="-2.45 15.59 33.18 51.7 69.25 86.57 105.48 123.92 141.87 160.21 195.59 212.84 231.97 250.1 285.73 304.22 322.25 340.3 358.03 376.53 394.42" y="0" font-size="31" stroke="#000" stroke-width="0.75" font-family="'Liberation Mono', monospace">NormalizedFluxDensity</text><text transform="translate(1125.4 338.8) rotate(-90) scale(0.93331 1)" x="-2.14 13.58 28.9 45.03 60.31 75.4 91.87 107.93 123.56 139.54 170.35 185.38 202.03 217.83 248.86 264.97 280.67 296.39 311.83 327.94 343.52" y="0" font-size="27" stroke="#000" stroke-width="0.75" font-family="'Liberation Mono', monospace">NormalizedFluxDensity</text><text transform="translate(1125.4 1024.8) rotate(-90) scale(0.93331 1)" x="-2.14 13.58 28.9 45.03 60.31 75.4 91.87 107.93 123.56 139.54 170.35 185.38 202.03 217.83 248.86 264.97 280.67 296.39 311.83 327.94 343.52" y="0" font-size="27" stroke="#000" stroke-width="0.75" font-family="'Liberation Mono', monospace">NormalizedFluxDensity</text><text transform="translate(1125.2 541.5) rotate(-90) scale(0.92313 1)" x="-2.14 13.88 29.15 44.15 59.96 74.89 89.85 104.49 135.73 150.32 166.53 181.89" y="0" font-size="27" stroke="#000" stroke-width="0.75" font-family="'Liberation Mono', monospace">ResidualFlux</text><text transform="translate(1125.2 1227.5) rotate(-90) scale(0.92313 1)" x="-2.14 13.88 29.15 44.15 59.96 74.89 89.85 104.49 135.73 150.32 166.53 181.89" y="0" font-size="27" stroke="#000" stroke-width="0.75" font-family="'Liberation Mono', monospace">ResidualFlux</text><text x="130.37 174.36" y="82.29" font-size="49.4" stroke="#000" stroke-width="0.3" font-family="'DejaVu Sans', 'Liberation Sans', sans-serif">()</text><text transform="scale(0.9947 1)" x="150.89" y="78.32" font-size="37.45" stroke="#000" stroke-width="1.9">a</text><text x="1237.08 1281.53" y="69.1" font-size="50.08" stroke="#000" stroke-width="0.3" font-family="'DejaVu Sans', 'Liberation Sans', sans-serif">()</text><text transform="scale(0.9901 1)" x="1270.57" y="64.22" font-size="37.08" stroke="#000" stroke-width="1.9">b</text><text x="1237.22 1279.21" y="423.36" font-size="49.63" stroke="#000" stroke-width="0.3" font-family="'DejaVu Sans', 'Liberation Sans', sans-serif">()</text><text transform="scale(1.0776 1)" x="1166.3" y="419.14" font-size="36.17" stroke="#000" stroke-width="1.9">c</text><text x="130.59 175.28" y="768.4" font-size="49.29" stroke="#000" stroke-width="0.3" font-family="'DejaVu Sans', 'Liberation Sans', sans-serif">()</text><text transform="scale(0.9819 1)" x="152.9" y="764.32" font-size="37.21" stroke="#000" stroke-width="1.9">d</text><text x="1237.23 1283.61" y="755.43" font-size="55.92" stroke="#000" stroke-width="0.3" font-family="'DejaVu Sans', 'Liberation Sans', sans-serif">()</text><text transform="scale(1.0762 1)" x="1169.69" y="750.29" font-size="39.64" stroke="#000" stroke-width="1.9">e</text><text x="1237.21 1275.74" y="1109.52" font-size="55.24" stroke="#000" stroke-width="0.3" font-family="'DejaVu Sans', 'Liberation Sans', sans-serif">()</text><text transform="scale(0.8263 1)" x="1524.76" y="1105.35" font-size="41.46" stroke="#000" stroke-width="1.9">f</text><text transform="scale(0.8 1)" x="914.77" y="79" font-size="44" stroke="#000" stroke-width="0.55">N</text><text x="764.77 793.95" y="79" font-size="44" stroke="#000" stroke-width="0.55">on</text><text transform="scale(0.95 1)" x="868.83" y="79" font-size="44" stroke="#000" stroke-width="0.55">−</text><text x="861.81 891.19 921" y="79" font-size="44" stroke="#000" stroke-width="0.55">abs</text><text transform="scale(0.8 1)" x="914.77" y="765" font-size="44" stroke="#000" stroke-width="0.55">N</text><text x="764.77 793.95" y="765" font-size="44" stroke="#000" stroke-width="0.55">on</text><text transform="scale(0.95 1)" x="868.83" y="765" font-size="44" stroke="#000" stroke-width="0.55">−</text><text x="861.81 891.19 921" y="765" font-size="44" stroke="#000" stroke-width="0.55">abs</text><text transform="scale(0.8 1)" x="1960.58" y="66.1" font-size="39.5" stroke="#000" stroke-width="0.55">N</text><text x="1597.93 1624" y="66.1" font-size="39.5" stroke="#000" stroke-width="0.55">on</text><text transform="scale(0.95 1)" x="1739.05" y="66.1" font-size="39.5" stroke="#000" stroke-width="0.55">−</text><text x="1684.66 1710.92 1737.58" y="66.1" font-size="39.5" stroke="#000" stroke-width="0.55">abs</text><text transform="scale(0.8 1)" x="1960.58" y="752.1" font-size="39.5" stroke="#000" stroke-width="0.55">N</text><text x="1597.93 1624" y="752.1" font-size="39.5" stroke="#000" stroke-width="0.55">on</text><text transform="scale(0.95 1)" x="1739.05" y="752.1" font-size="39.5" stroke="#000" stroke-width="0.55">−</text><text x="1684.66 1710.92 1737.58" y="752.1" font-size="39.5" stroke="#000" stroke-width="0.55">abs</text><text x="870.72 966.77" y="345.1" font-size="40.25" stroke="#000" stroke-width="0.5">[]</text><text transform="scale(0.6826 1)" x="1300.79" y="342.5" font-size="33.9" stroke="#000" stroke-width="2.1">N</text><text transform="scale(0.8391 1)" x="1086.44" y="342.5" font-size="33.9" stroke="#000" stroke-width="2.1">e</text><text transform="scale(0.6638 1)" x="1429" y="342.5" font-size="33.9" stroke="#000" stroke-width="2.1">V</text><text x="1575.78 1686.59" y="402.5" font-size="46.46" stroke="#000" stroke-width="0.5">[]</text><text transform="scale(0.684 1)" x="2333.14" y="399" font-size="38.5" stroke="#000" stroke-width="2.1">N</text><text transform="scale(0.9024 1)" x="1797.78" y="399" font-size="38.5" stroke="#000" stroke-width="2.1">e</text><text transform="scale(0.6749 1)" x="2467.63" y="399" font-size="38.5" stroke="#000" stroke-width="2.1">V</text><text x="598.47 687.63" y="941" font-size="47.05" stroke="#000" stroke-width="0.5">[]</text><text transform="scale(0.7499 1)" x="823.46" y="937.5" font-size="38.8" stroke="#000" stroke-width="2.1">O</text><text transform="scale(0.5794 1)" x="1146.03 1168.73" y="937.5" font-size="38.8" stroke="#000" stroke-width="2.1">II</text><text x="1462.46 1551.92" y="1092.6" font-size="46.56" stroke="#000" stroke-width="0.5">[]</text><text transform="scale(0.7594 1)" x="1950.89" y="1089.2" font-size="38.5" stroke="#000" stroke-width="2.1">O</text><text transform="scale(0.5931 1)" x="2576.11 2598.36" y="1089.2" font-size="38.5" stroke="#000" stroke-width="2.1">II</text></g></svg></body></html>
